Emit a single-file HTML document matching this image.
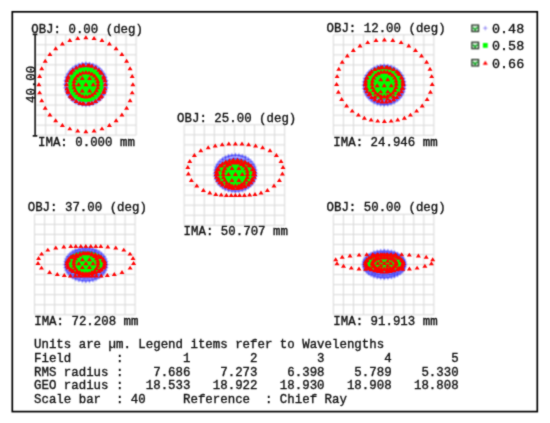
<!DOCTYPE html>
<html lang="en"><head><meta charset="utf-8"><title>Spot Diagram</title>
<style>html,body{margin:0;padding:0;background:#fff;overflow:hidden}body{width:550px;height:423px}</style>
</head><body>
<svg width="550" height="423" viewBox="0 0 550 423" style="font-family:'Liberation Mono',monospace;display:block" fill="#111">
<style>text{stroke:#111;stroke-width:.36px;white-space:pre}</style>
<defs><filter id="soft" x="0" y="0" width="100%" height="100%" filterUnits="userSpaceOnUse" color-interpolation-filters="sRGB"><feConvolveMatrix order="3" kernelMatrix="1 2 1 2 4 2 1 2 1" divisor="16" edgeMode="duplicate" preserveAlpha="false"/></filter><filter id="soft2" x="0" y="0" width="100%" height="100%" filterUnits="userSpaceOnUse" color-interpolation-filters="sRGB"><feConvolveMatrix order="3" kernelMatrix="1 3 1 3 16 3 1 3 1" divisor="32" edgeMode="duplicate" preserveAlpha="false"/></filter></defs>
<g filter="url(#soft)">
<rect width="550" height="423" fill="#fff"/>
<path d="M35.60 34.70v100.5M35.60 34.70h100.5M45.65 34.70v100.5M35.60 44.75h100.5M55.70 34.70v100.5M35.60 54.80h100.5M65.75 34.70v100.5M35.60 64.85h100.5M75.80 34.70v100.5M35.60 74.90h100.5M85.85 34.70v100.5M35.60 84.95h100.5M95.90 34.70v100.5M35.60 95.00h100.5M105.95 34.70v100.5M35.60 105.05h100.5M116.00 34.70v100.5M35.60 115.10h100.5M126.05 34.70v100.5M35.60 125.15h100.5M136.10 34.70v100.5M35.60 135.20h100.5" stroke="#d8d8d8" stroke-width="1" fill="none"/>
<path d="M333.40 34.80v100.5M333.40 34.80h100.5M343.45 34.80v100.5M333.40 44.85h100.5M353.50 34.80v100.5M333.40 54.90h100.5M363.55 34.80v100.5M333.40 64.95h100.5M373.60 34.80v100.5M333.40 75.00h100.5M383.65 34.80v100.5M333.40 85.05h100.5M393.70 34.80v100.5M333.40 95.10h100.5M403.75 34.80v100.5M333.40 105.15h100.5M413.80 34.80v100.5M333.40 115.20h100.5M423.85 34.80v100.5M333.40 125.25h100.5M433.90 34.80v100.5M333.40 135.30h100.5" stroke="#d8d8d8" stroke-width="1" fill="none"/>
<path d="M184.20 124.80v100.5M184.20 124.80h100.5M194.25 124.80v100.5M184.20 134.85h100.5M204.30 124.80v100.5M184.20 144.90h100.5M214.35 124.80v100.5M184.20 154.95h100.5M224.40 124.80v100.5M184.20 165.00h100.5M234.45 124.80v100.5M184.20 175.05h100.5M244.50 124.80v100.5M184.20 185.10h100.5M254.55 124.80v100.5M184.20 195.15h100.5M264.60 124.80v100.5M184.20 205.20h100.5M274.65 124.80v100.5M184.20 215.25h100.5M284.70 124.80v100.5M184.20 225.30h100.5" stroke="#d8d8d8" stroke-width="1" fill="none"/>
<path d="M34.60 214.30v100.5M34.60 214.30h100.5M44.65 214.30v100.5M34.60 224.35h100.5M54.70 214.30v100.5M34.60 234.40h100.5M64.75 214.30v100.5M34.60 244.45h100.5M74.80 214.30v100.5M34.60 254.50h100.5M84.85 214.30v100.5M34.60 264.55h100.5M94.90 214.30v100.5M34.60 274.60h100.5M104.95 214.30v100.5M34.60 284.65h100.5M115.00 214.30v100.5M34.60 294.70h100.5M125.05 214.30v100.5M34.60 304.75h100.5M135.10 214.30v100.5M34.60 314.80h100.5" stroke="#d8d8d8" stroke-width="1" fill="none"/>
<path d="M333.40 214.30v100.5M333.40 214.30h100.5M343.45 214.30v100.5M333.40 224.35h100.5M353.50 214.30v100.5M333.40 234.40h100.5M363.55 214.30v100.5M333.40 244.45h100.5M373.60 214.30v100.5M333.40 254.50h100.5M383.65 214.30v100.5M333.40 264.55h100.5M393.70 214.30v100.5M333.40 274.60h100.5M403.75 214.30v100.5M333.40 284.65h100.5M413.80 214.30v100.5M333.40 294.70h100.5M423.85 214.30v100.5M333.40 304.75h100.5M433.90 214.30v100.5M333.40 314.80h100.5" stroke="#d8d8d8" stroke-width="1" fill="none"/>
<path d="M83.70 84.30h4.40M85.90 82.10v4.40M87.20 84.30h4.40M89.40 82.10v4.40M85.45 81.27h4.40M87.65 79.07v4.40M81.95 81.27h4.40M84.15 79.07v4.40M80.20 84.30h4.40M82.40 82.10v4.40M81.95 87.33h4.40M84.15 85.13v4.40M85.45 87.33h4.40M87.65 85.13v4.40M90.70 84.30h4.40M92.90 82.10v4.40M89.76 80.80h4.40M91.96 78.60v4.40M87.20 78.24h4.40M89.40 76.04v4.40M83.70 77.30h4.40M85.90 75.10v4.40M80.20 78.24h4.40M82.40 76.04v4.40M77.64 80.80h4.40M79.84 78.60v4.40M76.70 84.30h4.40M78.90 82.10v4.40M77.64 87.80h4.40M79.84 85.60v4.40M80.20 90.36h4.40M82.40 88.16v4.40M83.70 91.30h4.40M85.90 89.10v4.40M87.20 90.36h4.40M89.40 88.16v4.40M89.76 87.80h4.40M91.96 85.60v4.40M94.20 84.30h4.40M96.40 82.10v4.40M93.57 80.71h4.40M95.77 78.51v4.40M91.74 77.55h4.40M93.94 75.35v4.40M88.95 75.21h4.40M91.15 73.01v4.40M85.52 73.96h4.40M87.72 71.76v4.40M81.88 73.96h4.40M84.08 71.76v4.40M78.45 75.21h4.40M80.65 73.01v4.40M75.66 77.55h4.40M77.86 75.35v4.40M73.83 80.71h4.40M76.03 78.51v4.40M73.20 84.30h4.40M75.40 82.10v4.40M73.83 87.89h4.40M76.03 85.69v4.40M75.66 91.05h4.40M77.86 88.85v4.40M78.45 93.39h4.40M80.65 91.19v4.40M81.88 94.64h4.40M84.08 92.44v4.40M85.52 94.64h4.40M87.72 92.44v4.40M88.95 93.39h4.40M91.15 91.19v4.40M91.74 91.05h4.40M93.94 88.85v4.40M93.57 87.89h4.40M95.77 85.69v4.40M97.70 84.30h4.40M99.90 82.10v4.40M97.22 80.68h4.40M99.42 78.48v4.40M95.82 77.30h4.40M98.02 75.10v4.40M93.60 74.40h4.40M95.80 72.20v4.40M90.70 72.18h4.40M92.90 69.98v4.40M87.32 70.78h4.40M89.52 68.58v4.40M83.70 70.30h4.40M85.90 68.10v4.40M80.08 70.78h4.40M82.28 68.58v4.40M76.70 72.18h4.40M78.90 69.98v4.40M73.80 74.40h4.40M76.00 72.20v4.40M71.58 77.30h4.40M73.78 75.10v4.40M70.18 80.68h4.40M72.38 78.48v4.40M69.70 84.30h4.40M71.90 82.10v4.40M70.18 87.92h4.40M72.38 85.72v4.40M71.58 91.30h4.40M73.78 89.10v4.40M73.80 94.20h4.40M76.00 92.00v4.40M76.70 96.42h4.40M78.90 94.22v4.40M80.08 97.82h4.40M82.28 95.62v4.40M83.70 98.30h4.40M85.90 96.10v4.40M87.32 97.82h4.40M89.52 95.62v4.40M90.70 96.42h4.40M92.90 94.22v4.40M93.60 94.20h4.40M95.80 92.00v4.40M95.82 91.30h4.40M98.02 89.10v4.40M97.22 87.92h4.40M99.42 85.72v4.40M101.20 84.30h4.40M103.40 82.10v4.40M100.82 80.66h4.40M103.02 78.46v4.40M99.69 77.18h4.40M101.89 74.98v4.40M97.86 74.01h4.40M100.06 71.81v4.40M95.41 71.29h4.40M97.61 69.09v4.40M92.45 69.14h4.40M94.65 66.94v4.40M89.11 67.66h4.40M91.31 65.46v4.40M85.53 66.90h4.40M87.73 64.70v4.40M81.87 66.90h4.40M84.07 64.70v4.40M78.29 67.66h4.40M80.49 65.46v4.40M74.95 69.14h4.40M77.15 66.94v4.40M71.99 71.29h4.40M74.19 69.09v4.40M69.54 74.01h4.40M71.74 71.81v4.40M67.71 77.18h4.40M69.91 74.98v4.40M66.58 80.66h4.40M68.78 78.46v4.40M66.20 84.30h4.40M68.40 82.10v4.40M66.58 87.94h4.40M68.78 85.74v4.40M67.71 91.42h4.40M69.91 89.22v4.40M69.54 94.59h4.40M71.74 92.39v4.40M71.99 97.31h4.40M74.19 95.11v4.40M74.95 99.46h4.40M77.15 97.26v4.40M78.29 100.94h4.40M80.49 98.74v4.40M81.87 101.70h4.40M84.07 99.50v4.40M85.53 101.70h4.40M87.73 99.50v4.40M89.11 100.94h4.40M91.31 98.74v4.40M92.45 99.46h4.40M94.65 97.26v4.40M95.41 97.31h4.40M97.61 95.11v4.40M97.86 94.59h4.40M100.06 92.39v4.40M99.69 91.42h4.40M101.89 89.22v4.40M100.82 87.94h4.40M103.02 85.74v4.40M104.10 84.30h4.40M106.30 82.10v4.40M103.79 80.76h4.40M105.99 78.56v4.40M102.87 77.32h4.40M105.07 75.12v4.40M101.37 74.10h4.40M103.57 71.90v4.40M99.33 71.19h4.40M101.53 68.99v4.40M96.81 68.67h4.40M99.01 66.47v4.40M93.90 66.63h4.40M96.10 64.43v4.40M90.68 65.13h4.40M92.88 62.93v4.40M87.24 64.21h4.40M89.44 62.01v4.40M83.70 63.90h4.40M85.90 61.70v4.40M80.16 64.21h4.40M82.36 62.01v4.40M76.72 65.13h4.40M78.92 62.93v4.40M73.50 66.63h4.40M75.70 64.43v4.40M70.59 68.67h4.40M72.79 66.47v4.40M68.07 71.19h4.40M70.27 68.99v4.40M66.03 74.10h4.40M68.23 71.90v4.40M64.53 77.32h4.40M66.73 75.12v4.40M63.61 80.76h4.40M65.81 78.56v4.40M63.30 84.30h4.40M65.50 82.10v4.40M63.61 87.84h4.40M65.81 85.64v4.40M64.53 91.28h4.40M66.73 89.08v4.40M66.03 94.50h4.40M68.23 92.30v4.40M68.07 97.41h4.40M70.27 95.21v4.40M70.59 99.93h4.40M72.79 97.73v4.40M73.50 101.97h4.40M75.70 99.77v4.40M76.72 103.47h4.40M78.92 101.27v4.40M80.16 104.39h4.40M82.36 102.19v4.40M83.70 104.70h4.40M85.90 102.50v4.40M87.24 104.39h4.40M89.44 102.19v4.40M90.68 103.47h4.40M92.88 101.27v4.40M93.90 101.97h4.40M96.10 99.77v4.40M96.81 99.93h4.40M99.01 97.73v4.40M99.33 97.41h4.40M101.53 95.21v4.40M101.37 94.50h4.40M103.57 92.30v4.40M102.87 91.28h4.40M105.07 89.08v4.40M103.79 87.84h4.40M105.99 85.64v4.40" stroke="#0000ff" stroke-width="0.75" fill="none"/>
<path d="M83.50 81.90h4.80v4.80h-4.80ZM86.10 81.90h4.80v4.80h-4.80ZM84.80 79.65h4.80v4.80h-4.80ZM82.20 79.65h4.80v4.80h-4.80ZM80.90 81.90h4.80v4.80h-4.80ZM82.20 84.15h4.80v4.80h-4.80ZM84.80 84.15h4.80v4.80h-4.80ZM88.70 81.90h4.80v4.80h-4.80ZM88.00 79.30h4.80v4.80h-4.80ZM86.10 77.40h4.80v4.80h-4.80ZM83.50 76.70h4.80v4.80h-4.80ZM80.90 77.40h4.80v4.80h-4.80ZM79.00 79.30h4.80v4.80h-4.80ZM78.30 81.90h4.80v4.80h-4.80ZM79.00 84.50h4.80v4.80h-4.80ZM80.90 86.40h4.80v4.80h-4.80ZM83.50 87.10h4.80v4.80h-4.80ZM86.10 86.40h4.80v4.80h-4.80ZM88.00 84.50h4.80v4.80h-4.80ZM91.30 81.90h4.80v4.80h-4.80ZM90.83 79.23h4.80v4.80h-4.80ZM89.48 76.89h4.80v4.80h-4.80ZM87.40 75.15h4.80v4.80h-4.80ZM84.85 74.22h4.80v4.80h-4.80ZM82.15 74.22h4.80v4.80h-4.80ZM79.60 75.15h4.80v4.80h-4.80ZM77.52 76.89h4.80v4.80h-4.80ZM76.17 79.23h4.80v4.80h-4.80ZM75.70 81.90h4.80v4.80h-4.80ZM76.17 84.57h4.80v4.80h-4.80ZM77.52 86.91h4.80v4.80h-4.80ZM79.60 88.65h4.80v4.80h-4.80ZM82.15 89.58h4.80v4.80h-4.80ZM84.85 89.58h4.80v4.80h-4.80ZM87.40 88.65h4.80v4.80h-4.80ZM89.48 86.91h4.80v4.80h-4.80ZM90.83 84.57h4.80v4.80h-4.80ZM93.90 81.90h4.80v4.80h-4.80ZM93.55 79.21h4.80v4.80h-4.80ZM92.51 76.70h4.80v4.80h-4.80ZM90.85 74.55h4.80v4.80h-4.80ZM88.70 72.89h4.80v4.80h-4.80ZM86.19 71.85h4.80v4.80h-4.80ZM83.50 71.50h4.80v4.80h-4.80ZM80.81 71.85h4.80v4.80h-4.80ZM78.30 72.89h4.80v4.80h-4.80ZM76.15 74.55h4.80v4.80h-4.80ZM74.49 76.70h4.80v4.80h-4.80ZM73.45 79.21h4.80v4.80h-4.80ZM73.10 81.90h4.80v4.80h-4.80ZM73.45 84.59h4.80v4.80h-4.80ZM74.49 87.10h4.80v4.80h-4.80ZM76.15 89.25h4.80v4.80h-4.80ZM78.30 90.91h4.80v4.80h-4.80ZM80.81 91.95h4.80v4.80h-4.80ZM83.50 92.30h4.80v4.80h-4.80ZM86.19 91.95h4.80v4.80h-4.80ZM88.70 90.91h4.80v4.80h-4.80ZM90.85 89.25h4.80v4.80h-4.80ZM92.51 87.10h4.80v4.80h-4.80ZM93.55 84.59h4.80v4.80h-4.80ZM96.50 81.90h4.80v4.80h-4.80ZM96.22 79.20h4.80v4.80h-4.80ZM95.38 76.61h4.80v4.80h-4.80ZM94.02 74.26h4.80v4.80h-4.80ZM92.20 72.24h4.80v4.80h-4.80ZM90.00 70.64h4.80v4.80h-4.80ZM87.52 69.54h4.80v4.80h-4.80ZM84.86 68.97h4.80v4.80h-4.80ZM82.14 68.97h4.80v4.80h-4.80ZM79.48 69.54h4.80v4.80h-4.80ZM77.00 70.64h4.80v4.80h-4.80ZM74.80 72.24h4.80v4.80h-4.80ZM72.98 74.26h4.80v4.80h-4.80ZM71.62 76.61h4.80v4.80h-4.80ZM70.78 79.20h4.80v4.80h-4.80ZM70.50 81.90h4.80v4.80h-4.80ZM70.78 84.60h4.80v4.80h-4.80ZM71.62 87.19h4.80v4.80h-4.80ZM72.98 89.54h4.80v4.80h-4.80ZM74.80 91.56h4.80v4.80h-4.80ZM77.00 93.16h4.80v4.80h-4.80ZM79.48 94.26h4.80v4.80h-4.80ZM82.14 94.83h4.80v4.80h-4.80ZM84.86 94.83h4.80v4.80h-4.80ZM87.52 94.26h4.80v4.80h-4.80ZM90.00 93.16h4.80v4.80h-4.80ZM92.20 91.56h4.80v4.80h-4.80ZM94.02 89.54h4.80v4.80h-4.80ZM95.38 87.19h4.80v4.80h-4.80ZM96.22 84.60h4.80v4.80h-4.80ZM99.00 81.90h4.80v4.80h-4.80ZM98.76 79.21h4.80v4.80h-4.80ZM98.07 76.60h4.80v4.80h-4.80ZM96.92 74.15h4.80v4.80h-4.80ZM95.37 71.94h4.80v4.80h-4.80ZM93.46 70.03h4.80v4.80h-4.80ZM91.25 68.48h4.80v4.80h-4.80ZM88.80 67.33h4.80v4.80h-4.80ZM86.19 66.64h4.80v4.80h-4.80ZM83.50 66.40h4.80v4.80h-4.80ZM80.81 66.64h4.80v4.80h-4.80ZM78.20 67.33h4.80v4.80h-4.80ZM75.75 68.48h4.80v4.80h-4.80ZM73.54 70.03h4.80v4.80h-4.80ZM71.63 71.94h4.80v4.80h-4.80ZM70.08 74.15h4.80v4.80h-4.80ZM68.93 76.60h4.80v4.80h-4.80ZM68.24 79.21h4.80v4.80h-4.80ZM68.00 81.90h4.80v4.80h-4.80ZM68.24 84.59h4.80v4.80h-4.80ZM68.93 87.20h4.80v4.80h-4.80ZM70.08 89.65h4.80v4.80h-4.80ZM71.63 91.86h4.80v4.80h-4.80ZM73.54 93.77h4.80v4.80h-4.80ZM75.75 95.32h4.80v4.80h-4.80ZM78.20 96.47h4.80v4.80h-4.80ZM80.81 97.16h4.80v4.80h-4.80ZM83.50 97.40h4.80v4.80h-4.80ZM86.19 97.16h4.80v4.80h-4.80ZM88.80 96.47h4.80v4.80h-4.80ZM91.25 95.32h4.80v4.80h-4.80ZM93.46 93.77h4.80v4.80h-4.80ZM95.37 91.86h4.80v4.80h-4.80ZM96.92 89.65h4.80v4.80h-4.80ZM98.07 87.20h4.80v4.80h-4.80ZM98.76 84.59h4.80v4.80h-4.80Z" fill="#00ff00"/>
<path d="M382.00 85.40h4.40M384.20 83.20v4.40M385.50 85.40h4.40M387.70 83.20v4.40M383.75 82.37h4.40M385.95 80.17v4.40M380.25 82.37h4.40M382.45 80.17v4.40M378.50 85.40h4.40M380.70 83.20v4.40M380.25 88.43h4.40M382.45 86.23v4.40M383.75 88.43h4.40M385.95 86.23v4.40M389.00 85.40h4.40M391.20 83.20v4.40M388.06 81.90h4.40M390.26 79.70v4.40M385.50 79.34h4.40M387.70 77.14v4.40M382.00 78.40h4.40M384.20 76.20v4.40M378.50 79.34h4.40M380.70 77.14v4.40M375.94 81.90h4.40M378.14 79.70v4.40M375.00 85.40h4.40M377.20 83.20v4.40M375.94 88.90h4.40M378.14 86.70v4.40M378.50 91.46h4.40M380.70 89.26v4.40M382.00 92.40h4.40M384.20 90.20v4.40M385.50 91.46h4.40M387.70 89.26v4.40M388.06 88.90h4.40M390.26 86.70v4.40M392.50 85.40h4.40M394.70 83.20v4.40M391.87 81.81h4.40M394.07 79.61v4.40M390.04 78.65h4.40M392.24 76.45v4.40M387.25 76.31h4.40M389.45 74.11v4.40M383.82 75.06h4.40M386.02 72.86v4.40M380.18 75.06h4.40M382.38 72.86v4.40M376.75 76.31h4.40M378.95 74.11v4.40M373.96 78.65h4.40M376.16 76.45v4.40M372.13 81.81h4.40M374.33 79.61v4.40M371.50 85.40h4.40M373.70 83.20v4.40M372.13 88.99h4.40M374.33 86.79v4.40M373.96 92.15h4.40M376.16 89.95v4.40M376.75 94.49h4.40M378.95 92.29v4.40M380.18 95.74h4.40M382.38 93.54v4.40M383.82 95.74h4.40M386.02 93.54v4.40M387.25 94.49h4.40M389.45 92.29v4.40M390.04 92.15h4.40M392.24 89.95v4.40M391.87 88.99h4.40M394.07 86.79v4.40M396.00 85.40h4.40M398.20 83.20v4.40M395.52 81.78h4.40M397.72 79.58v4.40M394.12 78.40h4.40M396.32 76.20v4.40M391.90 75.50h4.40M394.10 73.30v4.40M389.00 73.28h4.40M391.20 71.08v4.40M385.62 71.88h4.40M387.82 69.68v4.40M382.00 71.40h4.40M384.20 69.20v4.40M378.38 71.88h4.40M380.58 69.68v4.40M375.00 73.28h4.40M377.20 71.08v4.40M372.10 75.50h4.40M374.30 73.30v4.40M369.88 78.40h4.40M372.08 76.20v4.40M368.48 81.78h4.40M370.68 79.58v4.40M368.00 85.40h4.40M370.20 83.20v4.40M368.48 89.02h4.40M370.68 86.82v4.40M369.88 92.40h4.40M372.08 90.20v4.40M372.10 95.30h4.40M374.30 93.10v4.40M375.00 97.52h4.40M377.20 95.32v4.40M378.38 98.92h4.40M380.58 96.72v4.40M382.00 99.40h4.40M384.20 97.20v4.40M385.62 98.92h4.40M387.82 96.72v4.40M389.00 97.52h4.40M391.20 95.32v4.40M391.90 95.30h4.40M394.10 93.10v4.40M394.12 92.40h4.40M396.32 90.20v4.40M395.52 89.02h4.40M397.72 86.82v4.40M399.50 85.20h4.40M401.70 83.00v4.40M399.12 81.67h4.40M401.32 79.47v4.40M397.99 78.29h4.40M400.19 76.09v4.40M396.16 75.21h4.40M398.36 73.01v4.40M393.71 72.57h4.40M395.91 70.37v4.40M390.75 70.48h4.40M392.95 68.28v4.40M387.41 69.03h4.40M389.61 66.83v4.40M383.83 68.29h4.40M386.03 66.09v4.40M380.17 68.29h4.40M382.37 66.09v4.40M376.59 69.03h4.40M378.79 66.83v4.40M373.25 70.48h4.40M375.45 68.28v4.40M370.29 72.57h4.40M372.49 70.37v4.40M367.84 75.21h4.40M370.04 73.01v4.40M366.01 78.29h4.40M368.21 76.09v4.40M364.88 81.67h4.40M367.08 79.47v4.40M364.50 85.20h4.40M366.70 83.00v4.40M364.88 88.73h4.40M367.08 86.53v4.40M366.01 92.11h4.40M368.21 89.91v4.40M367.84 95.19h4.40M370.04 92.99v4.40M370.29 97.83h4.40M372.49 95.63v4.40M373.25 99.92h4.40M375.45 97.72v4.40M376.59 101.37h4.40M378.79 99.17v4.40M380.17 102.11h4.40M382.37 99.91v4.40M383.83 102.11h4.40M386.03 99.91v4.40M387.41 101.37h4.40M389.61 99.17v4.40M390.75 99.92h4.40M392.95 97.72v4.40M393.71 97.83h4.40M395.91 95.63v4.40M396.16 95.19h4.40M398.36 92.99v4.40M397.99 92.11h4.40M400.19 89.91v4.40M399.12 88.73h4.40M401.32 86.53v4.40M402.10 85.20h4.40M404.30 83.00v4.40M401.79 81.85h4.40M403.99 79.65v4.40M400.89 78.60h4.40M403.09 76.40v4.40M399.41 75.55h4.40M401.61 73.35v4.40M397.40 72.79h4.40M399.60 70.59v4.40M394.92 70.42h4.40M397.12 68.22v4.40M392.05 68.49h4.40M394.25 66.29v4.40M388.87 67.06h4.40M391.07 64.86v4.40M385.49 66.19h4.40M387.69 63.99v4.40M382.00 65.90h4.40M384.20 63.70v4.40M378.51 66.19h4.40M380.71 63.99v4.40M375.13 67.06h4.40M377.33 64.86v4.40M371.95 68.49h4.40M374.15 66.29v4.40M369.08 70.42h4.40M371.28 68.22v4.40M366.60 72.79h4.40M368.80 70.59v4.40M364.59 75.55h4.40M366.79 73.35v4.40M363.11 78.60h4.40M365.31 76.40v4.40M362.21 81.85h4.40M364.41 79.65v4.40M361.90 85.20h4.40M364.10 83.00v4.40M362.21 88.55h4.40M364.41 86.35v4.40M363.11 91.80h4.40M365.31 89.60v4.40M364.59 94.85h4.40M366.79 92.65v4.40M366.60 97.61h4.40M368.80 95.41v4.40M369.08 99.98h4.40M371.28 97.78v4.40M371.95 101.91h4.40M374.15 99.71v4.40M375.13 103.34h4.40M377.33 101.14v4.40M378.51 104.21h4.40M380.71 102.01v4.40M382.00 104.50h4.40M384.20 102.30v4.40M385.49 104.21h4.40M387.69 102.01v4.40M388.87 103.34h4.40M391.07 101.14v4.40M392.05 101.91h4.40M394.25 99.71v4.40M394.92 99.98h4.40M397.12 97.78v4.40M397.40 97.61h4.40M399.60 95.41v4.40M399.41 94.85h4.40M401.61 92.65v4.40M400.89 91.80h4.40M403.09 89.60v4.40M401.79 88.55h4.40M403.99 86.35v4.40" stroke="#0000ff" stroke-width="0.75" fill="none"/>
<path d="M381.80 83.00h4.80v4.80h-4.80ZM384.50 83.00h4.80v4.80h-4.80ZM383.15 80.75h4.80v4.80h-4.80ZM380.45 80.75h4.80v4.80h-4.80ZM379.10 83.00h4.80v4.80h-4.80ZM380.45 85.25h4.80v4.80h-4.80ZM383.15 85.25h4.80v4.80h-4.80ZM387.20 82.80h4.80v4.80h-4.80ZM386.48 80.30h4.80v4.80h-4.80ZM384.50 78.47h4.80v4.80h-4.80ZM381.80 77.80h4.80v4.80h-4.80ZM379.10 78.47h4.80v4.80h-4.80ZM377.12 80.30h4.80v4.80h-4.80ZM376.40 82.80h4.80v4.80h-4.80ZM377.12 85.30h4.80v4.80h-4.80ZM379.10 87.13h4.80v4.80h-4.80ZM381.80 87.80h4.80v4.80h-4.80ZM384.50 87.13h4.80v4.80h-4.80ZM386.48 85.30h4.80v4.80h-4.80ZM389.90 82.50h4.80v4.80h-4.80ZM389.41 80.00h4.80v4.80h-4.80ZM388.00 77.81h4.80v4.80h-4.80ZM385.85 76.18h4.80v4.80h-4.80ZM383.21 75.31h4.80v4.80h-4.80ZM380.39 75.31h4.80v4.80h-4.80ZM377.75 76.18h4.80v4.80h-4.80ZM375.60 77.81h4.80v4.80h-4.80ZM374.19 80.00h4.80v4.80h-4.80ZM373.70 82.50h4.80v4.80h-4.80ZM374.19 85.00h4.80v4.80h-4.80ZM375.60 87.19h4.80v4.80h-4.80ZM377.75 88.82h4.80v4.80h-4.80ZM380.39 89.69h4.80v4.80h-4.80ZM383.21 89.69h4.80v4.80h-4.80ZM385.85 88.82h4.80v4.80h-4.80ZM388.00 87.19h4.80v4.80h-4.80ZM389.41 85.00h4.80v4.80h-4.80ZM392.60 82.00h4.80v4.80h-4.80ZM392.23 79.54h4.80v4.80h-4.80ZM391.15 77.25h4.80v4.80h-4.80ZM389.44 75.28h4.80v4.80h-4.80ZM387.20 73.77h4.80v4.80h-4.80ZM384.60 72.82h4.80v4.80h-4.80ZM381.80 72.50h4.80v4.80h-4.80ZM379.00 72.82h4.80v4.80h-4.80ZM376.40 73.77h4.80v4.80h-4.80ZM374.16 75.28h4.80v4.80h-4.80ZM372.45 77.25h4.80v4.80h-4.80ZM371.37 79.54h4.80v4.80h-4.80ZM371.00 82.00h4.80v4.80h-4.80ZM371.37 84.46h4.80v4.80h-4.80ZM372.45 86.75h4.80v4.80h-4.80ZM374.16 88.72h4.80v4.80h-4.80ZM376.40 90.23h4.80v4.80h-4.80ZM379.00 91.18h4.80v4.80h-4.80ZM381.80 91.50h4.80v4.80h-4.80ZM384.60 91.18h4.80v4.80h-4.80ZM387.20 90.23h4.80v4.80h-4.80ZM389.44 88.72h4.80v4.80h-4.80ZM391.15 86.75h4.80v4.80h-4.80ZM392.23 84.46h4.80v4.80h-4.80ZM395.30 81.40h4.80v4.80h-4.80ZM395.00 78.99h4.80v4.80h-4.80ZM394.13 76.68h4.80v4.80h-4.80ZM392.72 74.58h4.80v4.80h-4.80ZM390.83 72.78h4.80v4.80h-4.80ZM388.55 71.35h4.80v4.80h-4.80ZM385.97 70.37h4.80v4.80h-4.80ZM383.21 69.86h4.80v4.80h-4.80ZM380.39 69.86h4.80v4.80h-4.80ZM377.63 70.37h4.80v4.80h-4.80ZM375.05 71.35h4.80v4.80h-4.80ZM372.77 72.78h4.80v4.80h-4.80ZM370.88 74.58h4.80v4.80h-4.80ZM369.47 76.68h4.80v4.80h-4.80ZM368.60 78.99h4.80v4.80h-4.80ZM368.30 81.40h4.80v4.80h-4.80ZM368.60 83.81h4.80v4.80h-4.80ZM369.47 86.12h4.80v4.80h-4.80ZM370.88 88.22h4.80v4.80h-4.80ZM372.77 90.02h4.80v4.80h-4.80ZM375.05 91.45h4.80v4.80h-4.80ZM377.63 92.43h4.80v4.80h-4.80ZM380.39 92.94h4.80v4.80h-4.80ZM383.21 92.94h4.80v4.80h-4.80ZM385.97 92.43h4.80v4.80h-4.80ZM388.55 91.45h4.80v4.80h-4.80ZM390.83 90.02h4.80v4.80h-4.80ZM392.72 88.22h4.80v4.80h-4.80ZM394.13 86.12h4.80v4.80h-4.80ZM395.00 83.81h4.80v4.80h-4.80ZM397.80 80.80h4.80v4.80h-4.80ZM397.56 78.44h4.80v4.80h-4.80ZM396.84 76.15h4.80v4.80h-4.80ZM395.66 74.00h4.80v4.80h-4.80ZM394.06 72.06h4.80v4.80h-4.80ZM392.08 70.38h4.80v4.80h-4.80ZM389.80 69.02h4.80v4.80h-4.80ZM387.27 68.02h4.80v4.80h-4.80ZM384.58 67.41h4.80v4.80h-4.80ZM381.80 67.20h4.80v4.80h-4.80ZM379.02 67.41h4.80v4.80h-4.80ZM376.33 68.02h4.80v4.80h-4.80ZM373.80 69.02h4.80v4.80h-4.80ZM371.52 70.38h4.80v4.80h-4.80ZM369.54 72.06h4.80v4.80h-4.80ZM367.94 74.00h4.80v4.80h-4.80ZM366.76 76.15h4.80v4.80h-4.80ZM366.04 78.44h4.80v4.80h-4.80ZM365.80 80.80h4.80v4.80h-4.80ZM366.04 83.16h4.80v4.80h-4.80ZM366.76 85.45h4.80v4.80h-4.80ZM367.94 87.60h4.80v4.80h-4.80ZM369.54 89.54h4.80v4.80h-4.80ZM371.52 91.22h4.80v4.80h-4.80ZM373.80 92.58h4.80v4.80h-4.80ZM376.33 93.58h4.80v4.80h-4.80ZM379.02 94.19h4.80v4.80h-4.80ZM381.80 94.40h4.80v4.80h-4.80ZM384.58 94.19h4.80v4.80h-4.80ZM387.27 93.58h4.80v4.80h-4.80ZM389.80 92.58h4.80v4.80h-4.80ZM392.08 91.22h4.80v4.80h-4.80ZM394.06 89.54h4.80v4.80h-4.80ZM395.66 87.60h4.80v4.80h-4.80ZM396.84 85.45h4.80v4.80h-4.80ZM397.56 83.16h4.80v4.80h-4.80Z" fill="#00ff00"/>
<path d="M233.20 174.00h4.40M235.40 171.80v4.40M236.70 174.00h4.40M238.90 171.80v4.40M234.95 171.23h4.40M237.15 169.03v4.40M231.45 171.23h4.40M233.65 169.03v4.40M229.70 174.00h4.40M231.90 171.80v4.40M231.45 176.77h4.40M233.65 174.57v4.40M234.95 176.77h4.40M237.15 174.57v4.40M240.20 174.00h4.40M242.40 171.80v4.40M239.26 170.80h4.40M241.46 168.60v4.40M236.70 168.46h4.40M238.90 166.26v4.40M233.20 167.60h4.40M235.40 165.40v4.40M229.70 168.46h4.40M231.90 166.26v4.40M227.14 170.80h4.40M229.34 168.60v4.40M226.20 174.00h4.40M228.40 171.80v4.40M227.14 177.20h4.40M229.34 175.00v4.40M229.70 179.54h4.40M231.90 177.34v4.40M233.20 180.40h4.40M235.40 178.20v4.40M236.70 179.54h4.40M238.90 177.34v4.40M239.26 177.20h4.40M241.46 175.00v4.40M243.70 174.00h4.40M245.90 171.80v4.40M243.07 170.72h4.40M245.27 168.52v4.40M241.24 167.83h4.40M243.44 165.63v4.40M238.45 165.69h4.40M240.65 163.49v4.40M235.02 164.55h4.40M237.22 162.35v4.40M231.38 164.55h4.40M233.58 162.35v4.40M227.95 165.69h4.40M230.15 163.49v4.40M225.16 167.83h4.40M227.36 165.63v4.40M223.33 170.72h4.40M225.53 168.52v4.40M222.70 174.00h4.40M224.90 171.80v4.40M223.33 177.28h4.40M225.53 175.08v4.40M225.16 180.17h4.40M227.36 177.97v4.40M227.95 182.31h4.40M230.15 180.11v4.40M231.38 183.45h4.40M233.58 181.25v4.40M235.02 183.45h4.40M237.22 181.25v4.40M238.45 182.31h4.40M240.65 180.11v4.40M241.24 180.17h4.40M243.44 177.97v4.40M243.07 177.28h4.40M245.27 175.08v4.40M247.20 174.00h4.40M249.40 171.80v4.40M246.72 170.69h4.40M248.92 168.49v4.40M245.32 167.60h4.40M247.52 165.40v4.40M243.10 164.95h4.40M245.30 162.75v4.40M240.20 162.91h4.40M242.40 160.71v4.40M236.82 161.64h4.40M239.02 159.44v4.40M233.20 161.20h4.40M235.40 159.00v4.40M229.58 161.64h4.40M231.78 159.44v4.40M226.20 162.91h4.40M228.40 160.71v4.40M223.30 164.95h4.40M225.50 162.75v4.40M221.08 167.60h4.40M223.28 165.40v4.40M219.68 170.69h4.40M221.88 168.49v4.40M219.20 174.00h4.40M221.40 171.80v4.40M219.68 177.31h4.40M221.88 175.11v4.40M221.08 180.40h4.40M223.28 178.20v4.40M223.30 183.05h4.40M225.50 180.85v4.40M226.20 185.09h4.40M228.40 182.89v4.40M229.58 186.36h4.40M231.78 184.16v4.40M233.20 186.80h4.40M235.40 184.60v4.40M236.82 186.36h4.40M239.02 184.16v4.40M240.20 185.09h4.40M242.40 182.89v4.40M243.10 183.05h4.40M245.30 180.85v4.40M245.32 180.40h4.40M247.52 178.20v4.40M246.72 177.31h4.40M248.92 175.11v4.40M250.20 173.50h4.40M252.40 171.30v4.40M249.83 170.42h4.40M252.03 168.22v4.40M248.73 167.48h4.40M250.93 165.28v4.40M246.95 164.80h4.40M249.15 162.60v4.40M244.58 162.50h4.40M246.78 160.30v4.40M241.70 160.68h4.40M243.90 158.48v4.40M238.45 159.42h4.40M240.65 157.22v4.40M234.98 158.78h4.40M237.18 156.58v4.40M231.42 158.78h4.40M233.62 156.58v4.40M227.95 159.42h4.40M230.15 157.22v4.40M224.70 160.68h4.40M226.90 158.48v4.40M221.82 162.50h4.40M224.02 160.30v4.40M219.45 164.80h4.40M221.65 162.60v4.40M217.67 167.48h4.40M219.87 165.28v4.40M216.57 170.42h4.40M218.77 168.22v4.40M216.20 173.50h4.40M218.40 171.30v4.40M216.57 176.58h4.40M218.77 174.38v4.40M217.67 179.52h4.40M219.87 177.32v4.40M219.45 182.20h4.40M221.65 180.00v4.40M221.82 184.50h4.40M224.02 182.30v4.40M224.70 186.32h4.40M226.90 184.12v4.40M227.95 187.58h4.40M230.15 185.38v4.40M231.42 188.22h4.40M233.62 186.02v4.40M234.98 188.22h4.40M237.18 186.02v4.40M238.45 187.58h4.40M240.65 185.38v4.40M241.70 186.32h4.40M243.90 184.12v4.40M244.58 184.50h4.40M246.78 182.30v4.40M246.95 182.20h4.40M249.15 180.00v4.40M248.73 179.52h4.40M250.93 177.32v4.40M249.83 176.58h4.40M252.03 174.38v4.40M253.30 173.20h4.40M255.50 171.00v4.40M252.99 170.09h4.40M255.19 167.89v4.40M252.09 167.08h4.40M254.29 164.88v4.40M250.61 164.25h4.40M252.81 162.05v4.40M248.60 161.69h4.40M250.80 159.49v4.40M246.12 159.49h4.40M248.32 157.29v4.40M243.25 157.70h4.40M245.45 155.50v4.40M240.07 156.38h4.40M242.27 154.18v4.40M236.69 155.57h4.40M238.89 153.37v4.40M233.20 155.30h4.40M235.40 153.10v4.40M229.71 155.57h4.40M231.91 153.37v4.40M226.33 156.38h4.40M228.53 154.18v4.40M223.15 157.70h4.40M225.35 155.50v4.40M220.28 159.49h4.40M222.48 157.29v4.40M217.80 161.69h4.40M220.00 159.49v4.40M215.79 164.25h4.40M217.99 162.05v4.40M214.31 167.08h4.40M216.51 164.88v4.40M213.41 170.09h4.40M215.61 167.89v4.40M213.10 173.20h4.40M215.30 171.00v4.40M213.41 176.31h4.40M215.61 174.11v4.40M214.31 179.32h4.40M216.51 177.12v4.40M215.79 182.15h4.40M217.99 179.95v4.40M217.80 184.71h4.40M220.00 182.51v4.40M220.28 186.91h4.40M222.48 184.71v4.40M223.15 188.70h4.40M225.35 186.50v4.40M226.33 190.02h4.40M228.53 187.82v4.40M229.71 190.83h4.40M231.91 188.63v4.40M233.20 191.10h4.40M235.40 188.90v4.40M236.69 190.83h4.40M238.89 188.63v4.40M240.07 190.02h4.40M242.27 187.82v4.40M243.25 188.70h4.40M245.45 186.50v4.40M246.12 186.91h4.40M248.32 184.71v4.40M248.60 184.71h4.40M250.80 182.51v4.40M250.61 182.15h4.40M252.81 179.95v4.40M252.09 179.32h4.40M254.29 177.12v4.40M252.99 176.31h4.40M255.19 174.11v4.40" stroke="#0000ff" stroke-width="0.75" fill="none"/>
<path d="M233.00 171.60h4.80v4.80h-4.80ZM235.60 171.60h4.80v4.80h-4.80ZM234.30 169.69h4.80v4.80h-4.80ZM231.70 169.69h4.80v4.80h-4.80ZM230.40 171.60h4.80v4.80h-4.80ZM231.70 173.51h4.80v4.80h-4.80ZM234.30 173.51h4.80v4.80h-4.80ZM238.20 171.60h4.80v4.80h-4.80ZM237.50 169.40h4.80v4.80h-4.80ZM235.60 167.79h4.80v4.80h-4.80ZM233.00 167.20h4.80v4.80h-4.80ZM230.40 167.79h4.80v4.80h-4.80ZM228.50 169.40h4.80v4.80h-4.80ZM227.80 171.60h4.80v4.80h-4.80ZM228.50 173.80h4.80v4.80h-4.80ZM230.40 175.41h4.80v4.80h-4.80ZM233.00 176.00h4.80v4.80h-4.80ZM235.60 175.41h4.80v4.80h-4.80ZM237.50 173.80h4.80v4.80h-4.80ZM240.80 171.60h4.80v4.80h-4.80ZM240.33 169.34h4.80v4.80h-4.80ZM238.98 167.36h4.80v4.80h-4.80ZM236.90 165.88h4.80v4.80h-4.80ZM234.35 165.10h4.80v4.80h-4.80ZM231.65 165.10h4.80v4.80h-4.80ZM229.10 165.88h4.80v4.80h-4.80ZM227.02 167.36h4.80v4.80h-4.80ZM225.67 169.34h4.80v4.80h-4.80ZM225.20 171.60h4.80v4.80h-4.80ZM225.67 173.86h4.80v4.80h-4.80ZM227.02 175.84h4.80v4.80h-4.80ZM229.10 177.32h4.80v4.80h-4.80ZM231.65 178.10h4.80v4.80h-4.80ZM234.35 178.10h4.80v4.80h-4.80ZM236.90 177.32h4.80v4.80h-4.80ZM238.98 175.84h4.80v4.80h-4.80ZM240.33 173.86h4.80v4.80h-4.80ZM243.40 171.60h4.80v4.80h-4.80ZM243.05 169.37h4.80v4.80h-4.80ZM242.01 167.30h4.80v4.80h-4.80ZM240.35 165.52h4.80v4.80h-4.80ZM238.20 164.15h4.80v4.80h-4.80ZM235.69 163.29h4.80v4.80h-4.80ZM233.00 163.00h4.80v4.80h-4.80ZM230.31 163.29h4.80v4.80h-4.80ZM227.80 164.15h4.80v4.80h-4.80ZM225.65 165.52h4.80v4.80h-4.80ZM223.99 167.30h4.80v4.80h-4.80ZM222.95 169.37h4.80v4.80h-4.80ZM222.60 171.60h4.80v4.80h-4.80ZM222.95 173.83h4.80v4.80h-4.80ZM223.99 175.90h4.80v4.80h-4.80ZM225.65 177.68h4.80v4.80h-4.80ZM227.80 179.05h4.80v4.80h-4.80ZM230.31 179.91h4.80v4.80h-4.80ZM233.00 180.20h4.80v4.80h-4.80ZM235.69 179.91h4.80v4.80h-4.80ZM238.20 179.05h4.80v4.80h-4.80ZM240.35 177.68h4.80v4.80h-4.80ZM242.01 175.90h4.80v4.80h-4.80ZM243.05 173.83h4.80v4.80h-4.80ZM246.00 171.60h4.80v4.80h-4.80ZM245.72 169.48h4.80v4.80h-4.80ZM244.88 167.45h4.80v4.80h-4.80ZM243.52 165.60h4.80v4.80h-4.80ZM241.70 164.02h4.80v4.80h-4.80ZM239.50 162.77h4.80v4.80h-4.80ZM237.02 161.90h4.80v4.80h-4.80ZM234.36 161.46h4.80v4.80h-4.80ZM231.64 161.46h4.80v4.80h-4.80ZM228.98 161.90h4.80v4.80h-4.80ZM226.50 162.77h4.80v4.80h-4.80ZM224.30 164.02h4.80v4.80h-4.80ZM222.48 165.60h4.80v4.80h-4.80ZM221.12 167.45h4.80v4.80h-4.80ZM220.28 169.48h4.80v4.80h-4.80ZM220.00 171.60h4.80v4.80h-4.80ZM220.28 173.72h4.80v4.80h-4.80ZM221.12 175.75h4.80v4.80h-4.80ZM222.48 177.60h4.80v4.80h-4.80ZM224.30 179.18h4.80v4.80h-4.80ZM226.50 180.43h4.80v4.80h-4.80ZM228.98 181.30h4.80v4.80h-4.80ZM231.64 181.74h4.80v4.80h-4.80ZM234.36 181.74h4.80v4.80h-4.80ZM237.02 181.30h4.80v4.80h-4.80ZM239.50 180.43h4.80v4.80h-4.80ZM241.70 179.18h4.80v4.80h-4.80ZM243.52 177.60h4.80v4.80h-4.80ZM244.88 175.75h4.80v4.80h-4.80ZM245.72 173.72h4.80v4.80h-4.80ZM248.50 171.60h4.80v4.80h-4.80ZM248.26 169.60h4.80v4.80h-4.80ZM247.57 167.67h4.80v4.80h-4.80ZM246.42 165.85h4.80v4.80h-4.80ZM244.87 164.21h4.80v4.80h-4.80ZM242.96 162.79h4.80v4.80h-4.80ZM240.75 161.64h4.80v4.80h-4.80ZM238.30 160.79h4.80v4.80h-4.80ZM235.69 160.27h4.80v4.80h-4.80ZM233.00 160.10h4.80v4.80h-4.80ZM230.31 160.27h4.80v4.80h-4.80ZM227.70 160.79h4.80v4.80h-4.80ZM225.25 161.64h4.80v4.80h-4.80ZM223.04 162.79h4.80v4.80h-4.80ZM221.13 164.21h4.80v4.80h-4.80ZM219.58 165.85h4.80v4.80h-4.80ZM218.43 167.67h4.80v4.80h-4.80ZM217.74 169.60h4.80v4.80h-4.80ZM217.50 171.60h4.80v4.80h-4.80ZM217.74 173.60h4.80v4.80h-4.80ZM218.43 175.53h4.80v4.80h-4.80ZM219.58 177.35h4.80v4.80h-4.80ZM221.13 178.99h4.80v4.80h-4.80ZM223.04 180.41h4.80v4.80h-4.80ZM225.25 181.56h4.80v4.80h-4.80ZM227.70 182.41h4.80v4.80h-4.80ZM230.31 182.93h4.80v4.80h-4.80ZM233.00 183.10h4.80v4.80h-4.80ZM235.69 182.93h4.80v4.80h-4.80ZM238.30 182.41h4.80v4.80h-4.80ZM240.75 181.56h4.80v4.80h-4.80ZM242.96 180.41h4.80v4.80h-4.80ZM244.87 178.99h4.80v4.80h-4.80ZM246.42 177.35h4.80v4.80h-4.80ZM247.57 175.53h4.80v4.80h-4.80ZM248.26 173.60h4.80v4.80h-4.80Z" fill="#00ff00"/>
<path d="M83.70 263.30h4.40M85.90 261.10v4.40M87.20 263.30h4.40M89.40 261.10v4.40M85.45 260.88h4.40M87.65 258.68v4.40M81.95 260.88h4.40M84.15 258.68v4.40M80.20 263.30h4.40M82.40 261.10v4.40M81.95 265.72h4.40M84.15 263.52v4.40M85.45 265.72h4.40M87.65 263.52v4.40M90.70 263.60h4.40M92.90 261.40v4.40M89.76 260.80h4.40M91.96 258.60v4.40M87.20 258.75h4.40M89.40 256.55v4.40M83.70 258.00h4.40M85.90 255.80v4.40M80.20 258.75h4.40M82.40 256.55v4.40M77.64 260.80h4.40M79.84 258.60v4.40M76.70 263.60h4.40M78.90 261.40v4.40M77.64 266.40h4.40M79.84 264.20v4.40M80.20 268.45h4.40M82.40 266.25v4.40M83.70 269.20h4.40M85.90 267.00v4.40M87.20 268.45h4.40M89.40 266.25v4.40M89.76 266.40h4.40M91.96 264.20v4.40M94.20 263.90h4.40M96.40 261.70v4.40M93.57 261.03h4.40M95.77 258.83v4.40M91.74 258.50h4.40M93.94 256.30v4.40M88.95 256.63h4.40M91.15 254.43v4.40M85.52 255.63h4.40M87.72 253.43v4.40M81.88 255.63h4.40M84.08 253.43v4.40M78.45 256.63h4.40M80.65 254.43v4.40M75.66 258.50h4.40M77.86 256.30v4.40M73.83 261.03h4.40M76.03 258.83v4.40M73.20 263.90h4.40M75.40 261.70v4.40M73.83 266.77h4.40M76.03 264.57v4.40M75.66 269.30h4.40M77.86 267.10v4.40M78.45 271.17h4.40M80.65 268.97v4.40M81.88 272.17h4.40M84.08 269.97v4.40M85.52 272.17h4.40M87.72 269.97v4.40M88.95 271.17h4.40M91.15 268.97v4.40M91.74 269.30h4.40M93.94 267.10v4.40M93.57 266.77h4.40M95.77 264.57v4.40M97.70 264.20h4.40M99.90 262.00v4.40M97.22 261.30h4.40M99.42 259.10v4.40M95.82 258.60h4.40M98.02 256.40v4.40M93.60 256.28h4.40M95.80 254.08v4.40M90.70 254.50h4.40M92.90 252.30v4.40M87.32 253.38h4.40M89.52 251.18v4.40M83.70 253.00h4.40M85.90 250.80v4.40M80.08 253.38h4.40M82.28 251.18v4.40M76.70 254.50h4.40M78.90 252.30v4.40M73.80 256.28h4.40M76.00 254.08v4.40M71.58 258.60h4.40M73.78 256.40v4.40M70.18 261.30h4.40M72.38 259.10v4.40M69.70 264.20h4.40M71.90 262.00v4.40M70.18 267.10h4.40M72.38 264.90v4.40M71.58 269.80h4.40M73.78 267.60v4.40M73.80 272.12h4.40M76.00 269.92v4.40M76.70 273.90h4.40M78.90 271.70v4.40M80.08 275.02h4.40M82.28 272.82v4.40M83.70 275.40h4.40M85.90 273.20v4.40M87.32 275.02h4.40M89.52 272.82v4.40M90.70 273.90h4.40M92.90 271.70v4.40M93.60 272.12h4.40M95.80 269.92v4.40M95.82 269.80h4.40M98.02 267.60v4.40M97.22 267.10h4.40M99.42 264.90v4.40M100.90 264.40h4.40M103.10 262.20v4.40M100.52 261.57h4.40M102.72 259.37v4.40M99.41 258.87h4.40M101.61 256.67v4.40M97.62 256.41h4.40M99.82 254.21v4.40M95.21 254.29h4.40M97.41 252.09v4.40M92.30 252.62h4.40M94.50 250.42v4.40M89.02 251.47h4.40M91.22 249.27v4.40M85.50 250.87h4.40M87.70 248.67v4.40M81.90 250.87h4.40M84.10 248.67v4.40M78.38 251.47h4.40M80.58 249.27v4.40M75.10 252.62h4.40M77.30 250.42v4.40M72.19 254.29h4.40M74.39 252.09v4.40M69.78 256.41h4.40M71.98 254.21v4.40M67.99 258.87h4.40M70.19 256.67v4.40M66.88 261.57h4.40M69.08 259.37v4.40M66.50 264.40h4.40M68.70 262.20v4.40M66.88 267.23h4.40M69.08 265.03v4.40M67.99 269.93h4.40M70.19 267.73v4.40M69.78 272.39h4.40M71.98 270.19v4.40M72.19 274.51h4.40M74.39 272.31v4.40M75.10 276.18h4.40M77.30 273.98v4.40M78.38 277.33h4.40M80.58 275.13v4.40M81.90 277.93h4.40M84.10 275.73v4.40M85.50 277.93h4.40M87.70 275.73v4.40M89.02 277.33h4.40M91.22 275.13v4.40M92.30 276.18h4.40M94.50 273.98v4.40M95.21 274.51h4.40M97.41 272.31v4.40M97.62 272.39h4.40M99.82 270.19v4.40M99.41 269.93h4.40M101.61 267.73v4.40M100.52 267.23h4.40M102.72 265.03v4.40M104.10 264.60h4.40M106.30 262.40v4.40M103.79 261.79h4.40M105.99 259.59v4.40M102.87 259.06h4.40M105.07 256.86v4.40M101.37 256.50h4.40M103.57 254.30v4.40M99.33 254.19h4.40M101.53 251.99v4.40M96.81 252.19h4.40M99.01 249.99v4.40M93.90 250.57h4.40M96.10 248.37v4.40M90.68 249.38h4.40M92.88 247.18v4.40M87.24 248.65h4.40M89.44 246.45v4.40M83.70 248.40h4.40M85.90 246.20v4.40M80.16 248.65h4.40M82.36 246.45v4.40M76.72 249.38h4.40M78.92 247.18v4.40M73.50 250.57h4.40M75.70 248.37v4.40M70.59 252.19h4.40M72.79 249.99v4.40M68.07 254.19h4.40M70.27 251.99v4.40M66.03 256.50h4.40M68.23 254.30v4.40M64.53 259.06h4.40M66.73 256.86v4.40M63.61 261.79h4.40M65.81 259.59v4.40M63.30 264.60h4.40M65.50 262.40v4.40M63.61 267.41h4.40M65.81 265.21v4.40M64.53 270.14h4.40M66.73 267.94v4.40M66.03 272.70h4.40M68.23 270.50v4.40M68.07 275.01h4.40M70.27 272.81v4.40M70.59 277.01h4.40M72.79 274.81v4.40M73.50 278.63h4.40M75.70 276.43v4.40M76.72 279.82h4.40M78.92 277.62v4.40M80.16 280.55h4.40M82.36 278.35v4.40M83.70 280.80h4.40M85.90 278.60v4.40M87.24 280.55h4.40M89.44 278.35v4.40M90.68 279.82h4.40M92.88 277.62v4.40M93.90 278.63h4.40M96.10 276.43v4.40M96.81 277.01h4.40M99.01 274.81v4.40M99.33 275.01h4.40M101.53 272.81v4.40M101.37 272.70h4.40M103.57 270.50v4.40M102.87 270.14h4.40M105.07 267.94v4.40M103.79 267.41h4.40M105.99 265.21v4.40" stroke="#0000ff" stroke-width="0.75" fill="none"/>
<path d="M83.50 260.90h4.80v4.80h-4.80ZM86.10 260.90h4.80v4.80h-4.80ZM84.80 259.43h4.80v4.80h-4.80ZM82.20 259.43h4.80v4.80h-4.80ZM80.90 260.90h4.80v4.80h-4.80ZM82.20 262.37h4.80v4.80h-4.80ZM84.80 262.37h4.80v4.80h-4.80ZM88.70 260.90h4.80v4.80h-4.80ZM88.00 259.20h4.80v4.80h-4.80ZM86.10 257.96h4.80v4.80h-4.80ZM83.50 257.50h4.80v4.80h-4.80ZM80.90 257.96h4.80v4.80h-4.80ZM79.00 259.20h4.80v4.80h-4.80ZM78.30 260.90h4.80v4.80h-4.80ZM79.00 262.60h4.80v4.80h-4.80ZM80.90 263.84h4.80v4.80h-4.80ZM83.50 264.30h4.80v4.80h-4.80ZM86.10 263.84h4.80v4.80h-4.80ZM88.00 262.60h4.80v4.80h-4.80ZM91.30 260.90h4.80v4.80h-4.80ZM90.83 259.19h4.80v4.80h-4.80ZM89.48 257.69h4.80v4.80h-4.80ZM87.40 256.57h4.80v4.80h-4.80ZM84.85 255.98h4.80v4.80h-4.80ZM82.15 255.98h4.80v4.80h-4.80ZM79.60 256.57h4.80v4.80h-4.80ZM77.52 257.69h4.80v4.80h-4.80ZM76.17 259.19h4.80v4.80h-4.80ZM75.70 260.90h4.80v4.80h-4.80ZM76.17 262.61h4.80v4.80h-4.80ZM77.52 264.11h4.80v4.80h-4.80ZM79.60 265.23h4.80v4.80h-4.80ZM82.15 265.82h4.80v4.80h-4.80ZM84.85 265.82h4.80v4.80h-4.80ZM87.40 265.23h4.80v4.80h-4.80ZM89.48 264.11h4.80v4.80h-4.80ZM90.83 262.61h4.80v4.80h-4.80ZM93.90 260.90h4.80v4.80h-4.80ZM93.55 259.19h4.80v4.80h-4.80ZM92.51 257.60h4.80v4.80h-4.80ZM90.85 256.23h4.80v4.80h-4.80ZM88.70 255.18h4.80v4.80h-4.80ZM86.19 254.52h4.80v4.80h-4.80ZM83.50 254.30h4.80v4.80h-4.80ZM80.81 254.52h4.80v4.80h-4.80ZM78.30 255.18h4.80v4.80h-4.80ZM76.15 256.23h4.80v4.80h-4.80ZM74.49 257.60h4.80v4.80h-4.80ZM73.45 259.19h4.80v4.80h-4.80ZM73.10 260.90h4.80v4.80h-4.80ZM73.45 262.61h4.80v4.80h-4.80ZM74.49 264.20h4.80v4.80h-4.80ZM76.15 265.57h4.80v4.80h-4.80ZM78.30 266.62h4.80v4.80h-4.80ZM80.81 267.28h4.80v4.80h-4.80ZM83.50 267.50h4.80v4.80h-4.80ZM86.19 267.28h4.80v4.80h-4.80ZM88.70 266.62h4.80v4.80h-4.80ZM90.85 265.57h4.80v4.80h-4.80ZM92.51 264.20h4.80v4.80h-4.80ZM93.55 262.61h4.80v4.80h-4.80ZM96.50 260.90h4.80v4.80h-4.80ZM96.22 259.24h4.80v4.80h-4.80ZM95.38 257.65h4.80v4.80h-4.80ZM94.02 256.20h4.80v4.80h-4.80ZM92.20 254.95h4.80v4.80h-4.80ZM90.00 253.97h4.80v4.80h-4.80ZM87.52 253.29h4.80v4.80h-4.80ZM84.86 252.94h4.80v4.80h-4.80ZM82.14 252.94h4.80v4.80h-4.80ZM79.48 253.29h4.80v4.80h-4.80ZM77.00 253.97h4.80v4.80h-4.80ZM74.80 254.95h4.80v4.80h-4.80ZM72.98 256.20h4.80v4.80h-4.80ZM71.62 257.65h4.80v4.80h-4.80ZM70.78 259.24h4.80v4.80h-4.80ZM70.50 260.90h4.80v4.80h-4.80ZM70.78 262.56h4.80v4.80h-4.80ZM71.62 264.15h4.80v4.80h-4.80ZM72.98 265.60h4.80v4.80h-4.80ZM74.80 266.85h4.80v4.80h-4.80ZM77.00 267.83h4.80v4.80h-4.80ZM79.48 268.51h4.80v4.80h-4.80ZM82.14 268.86h4.80v4.80h-4.80ZM84.86 268.86h4.80v4.80h-4.80ZM87.52 268.51h4.80v4.80h-4.80ZM90.00 267.83h4.80v4.80h-4.80ZM92.20 266.85h4.80v4.80h-4.80ZM94.02 265.60h4.80v4.80h-4.80ZM95.38 264.15h4.80v4.80h-4.80ZM96.22 262.56h4.80v4.80h-4.80ZM99.10 260.90h4.80v4.80h-4.80ZM98.86 259.34h4.80v4.80h-4.80ZM98.16 257.82h4.80v4.80h-4.80ZM97.01 256.40h4.80v4.80h-4.80ZM95.45 255.11h4.80v4.80h-4.80ZM93.53 254.01h4.80v4.80h-4.80ZM91.30 253.11h4.80v4.80h-4.80ZM88.84 252.44h4.80v4.80h-4.80ZM86.21 252.04h4.80v4.80h-4.80ZM83.50 251.90h4.80v4.80h-4.80ZM80.79 252.04h4.80v4.80h-4.80ZM78.16 252.44h4.80v4.80h-4.80ZM75.70 253.11h4.80v4.80h-4.80ZM73.47 254.01h4.80v4.80h-4.80ZM71.55 255.11h4.80v4.80h-4.80ZM69.99 256.40h4.80v4.80h-4.80ZM68.84 257.82h4.80v4.80h-4.80ZM68.14 259.34h4.80v4.80h-4.80ZM67.90 260.90h4.80v4.80h-4.80ZM68.14 262.46h4.80v4.80h-4.80ZM68.84 263.98h4.80v4.80h-4.80ZM69.99 265.40h4.80v4.80h-4.80ZM71.55 266.69h4.80v4.80h-4.80ZM73.47 267.79h4.80v4.80h-4.80ZM75.70 268.69h4.80v4.80h-4.80ZM78.16 269.36h4.80v4.80h-4.80ZM80.79 269.76h4.80v4.80h-4.80ZM83.50 269.90h4.80v4.80h-4.80ZM86.21 269.76h4.80v4.80h-4.80ZM88.84 269.36h4.80v4.80h-4.80ZM91.30 268.69h4.80v4.80h-4.80ZM93.53 267.79h4.80v4.80h-4.80ZM95.45 266.69h4.80v4.80h-4.80ZM97.01 265.40h4.80v4.80h-4.80ZM98.16 263.98h4.80v4.80h-4.80ZM98.86 262.46h4.80v4.80h-4.80Z" fill="#00ff00"/>
<path d="M382.10 263.00h4.40M384.30 260.80v4.40M385.60 263.00h4.40M387.80 260.80v4.40M383.85 261.09h4.40M386.05 258.89v4.40M380.35 261.09h4.40M382.55 258.89v4.40M378.60 263.00h4.40M380.80 260.80v4.40M380.35 264.91h4.40M382.55 262.71v4.40M383.85 264.91h4.40M386.05 262.71v4.40M389.10 263.30h4.40M391.30 261.10v4.40M388.16 261.10h4.40M390.36 258.90v4.40M385.60 259.49h4.40M387.80 257.29v4.40M382.10 258.90h4.40M384.30 256.70v4.40M378.60 259.49h4.40M380.80 257.29v4.40M376.04 261.10h4.40M378.24 258.90v4.40M375.10 263.30h4.40M377.30 261.10v4.40M376.04 265.50h4.40M378.24 263.30v4.40M378.60 267.11h4.40M380.80 264.91v4.40M382.10 267.70h4.40M384.30 265.50v4.40M385.60 267.11h4.40M387.80 264.91v4.40M388.16 265.50h4.40M390.36 263.30v4.40M392.60 263.60h4.40M394.80 261.40v4.40M391.97 261.34h4.40M394.17 259.14v4.40M390.14 259.36h4.40M392.34 257.16v4.40M387.35 257.88h4.40M389.55 255.68v4.40M383.92 257.10h4.40M386.12 254.90v4.40M380.28 257.10h4.40M382.48 254.90v4.40M376.85 257.88h4.40M379.05 255.68v4.40M374.06 259.36h4.40M376.26 257.16v4.40M372.23 261.34h4.40M374.43 259.14v4.40M371.60 263.60h4.40M373.80 261.40v4.40M372.23 265.86h4.40M374.43 263.66v4.40M374.06 267.84h4.40M376.26 265.64v4.40M376.85 269.32h4.40M379.05 267.12v4.40M380.28 270.10h4.40M382.48 267.90v4.40M383.92 270.10h4.40M386.12 267.90v4.40M387.35 269.32h4.40M389.55 267.12v4.40M390.14 267.84h4.40M392.34 265.64v4.40M391.97 265.86h4.40M394.17 263.66v4.40M396.10 263.90h4.40M398.30 261.70v4.40M395.62 261.62h4.40M397.82 259.42v4.40M394.22 259.50h4.40M396.42 257.30v4.40M392.00 257.68h4.40M394.20 255.48v4.40M389.10 256.28h4.40M391.30 254.08v4.40M385.72 255.40h4.40M387.92 253.20v4.40M382.10 255.10h4.40M384.30 252.90v4.40M378.48 255.40h4.40M380.68 253.20v4.40M375.10 256.28h4.40M377.30 254.08v4.40M372.20 257.68h4.40M374.40 255.48v4.40M369.98 259.50h4.40M372.18 257.30v4.40M368.58 261.62h4.40M370.78 259.42v4.40M368.10 263.90h4.40M370.30 261.70v4.40M368.58 266.18h4.40M370.78 263.98v4.40M369.98 268.30h4.40M372.18 266.10v4.40M372.20 270.12h4.40M374.40 267.92v4.40M375.10 271.52h4.40M377.30 269.32v4.40M378.48 272.40h4.40M380.68 270.20v4.40M382.10 272.70h4.40M384.30 270.50v4.40M385.72 272.40h4.40M387.92 270.20v4.40M389.10 271.52h4.40M391.30 269.32v4.40M392.00 270.12h4.40M394.20 267.92v4.40M394.22 268.30h4.40M396.42 266.10v4.40M395.62 266.18h4.40M397.82 263.98v4.40M399.40 264.20h4.40M401.60 262.00v4.40M399.02 261.91h4.40M401.22 259.71v4.40M397.90 259.73h4.40M400.10 257.53v4.40M396.10 257.73h4.40M398.30 255.53v4.40M393.68 256.03h4.40M395.88 253.83v4.40M390.75 254.67h4.40M392.95 252.47v4.40M387.45 253.74h4.40M389.65 251.54v4.40M383.91 253.26h4.40M386.11 251.06v4.40M380.29 253.26h4.40M382.49 251.06v4.40M376.75 253.74h4.40M378.95 251.54v4.40M373.45 254.67h4.40M375.65 252.47v4.40M370.52 256.03h4.40M372.72 253.83v4.40M368.10 257.73h4.40M370.30 255.53v4.40M366.30 259.73h4.40M368.50 257.53v4.40M365.18 261.91h4.40M367.38 259.71v4.40M364.80 264.20h4.40M367.00 262.00v4.40M365.18 266.49h4.40M367.38 264.29v4.40M366.30 268.67h4.40M368.50 266.47v4.40M368.10 270.67h4.40M370.30 268.47v4.40M370.52 272.37h4.40M372.72 270.17v4.40M373.45 273.73h4.40M375.65 271.53v4.40M376.75 274.66h4.40M378.95 272.46v4.40M380.29 275.14h4.40M382.49 272.94v4.40M383.91 275.14h4.40M386.11 272.94v4.40M387.45 274.66h4.40M389.65 272.46v4.40M390.75 273.73h4.40M392.95 271.53v4.40M393.68 272.37h4.40M395.88 270.17v4.40M396.10 270.67h4.40M398.30 268.47v4.40M397.90 268.67h4.40M400.10 266.47v4.40M399.02 266.49h4.40M401.22 264.29v4.40M402.70 264.40h4.40M404.90 262.20v4.40M402.39 262.09h4.40M404.59 259.89v4.40M401.46 259.85h4.40M403.66 257.65v4.40M399.94 257.75h4.40M402.14 255.55v4.40M397.88 255.85h4.40M400.08 253.65v4.40M395.34 254.21h4.40M397.54 252.01v4.40M392.40 252.88h4.40M394.60 250.68v4.40M389.15 251.90h4.40M391.35 249.70v4.40M385.68 251.30h4.40M387.88 249.10v4.40M382.10 251.10h4.40M384.30 248.90v4.40M378.52 251.30h4.40M380.72 249.10v4.40M375.05 251.90h4.40M377.25 249.70v4.40M371.80 252.88h4.40M374.00 250.68v4.40M368.86 254.21h4.40M371.06 252.01v4.40M366.32 255.85h4.40M368.52 253.65v4.40M364.26 257.75h4.40M366.46 255.55v4.40M362.74 259.85h4.40M364.94 257.65v4.40M361.81 262.09h4.40M364.01 259.89v4.40M361.50 264.40h4.40M363.70 262.20v4.40M361.81 266.71h4.40M364.01 264.51v4.40M362.74 268.95h4.40M364.94 266.75v4.40M364.26 271.05h4.40M366.46 268.85v4.40M366.32 272.95h4.40M368.52 270.75v4.40M368.86 274.59h4.40M371.06 272.39v4.40M371.80 275.92h4.40M374.00 273.72v4.40M375.05 276.90h4.40M377.25 274.70v4.40M378.52 277.50h4.40M380.72 275.30v4.40M382.10 277.70h4.40M384.30 275.50v4.40M385.68 277.50h4.40M387.88 275.30v4.40M389.15 276.90h4.40M391.35 274.70v4.40M392.40 275.92h4.40M394.60 273.72v4.40M395.34 274.59h4.40M397.54 272.39v4.40M397.88 272.95h4.40M400.08 270.75v4.40M399.94 271.05h4.40M402.14 268.85v4.40M401.46 268.95h4.40M403.66 266.75v4.40M402.39 266.71h4.40M404.59 264.51v4.40" stroke="#0000ff" stroke-width="0.75" fill="none"/>
<path d="M381.90 260.60h4.80v4.80h-4.80ZM384.50 260.60h4.80v4.80h-4.80ZM383.20 259.73h4.80v4.80h-4.80ZM380.60 259.73h4.80v4.80h-4.80ZM379.30 260.60h4.80v4.80h-4.80ZM380.60 261.47h4.80v4.80h-4.80ZM383.20 261.47h4.80v4.80h-4.80ZM387.10 260.60h4.80v4.80h-4.80ZM386.40 259.60h4.80v4.80h-4.80ZM384.50 258.87h4.80v4.80h-4.80ZM381.90 258.60h4.80v4.80h-4.80ZM379.30 258.87h4.80v4.80h-4.80ZM377.40 259.60h4.80v4.80h-4.80ZM376.70 260.60h4.80v4.80h-4.80ZM377.40 261.60h4.80v4.80h-4.80ZM379.30 262.33h4.80v4.80h-4.80ZM381.90 262.60h4.80v4.80h-4.80ZM384.50 262.33h4.80v4.80h-4.80ZM386.40 261.60h4.80v4.80h-4.80ZM389.70 260.60h4.80v4.80h-4.80ZM389.23 259.57h4.80v4.80h-4.80ZM387.88 258.67h4.80v4.80h-4.80ZM385.80 258.00h4.80v4.80h-4.80ZM383.25 257.65h4.80v4.80h-4.80ZM380.55 257.65h4.80v4.80h-4.80ZM378.00 258.00h4.80v4.80h-4.80ZM375.92 258.67h4.80v4.80h-4.80ZM374.57 259.57h4.80v4.80h-4.80ZM374.10 260.60h4.80v4.80h-4.80ZM374.57 261.63h4.80v4.80h-4.80ZM375.92 262.53h4.80v4.80h-4.80ZM378.00 263.20h4.80v4.80h-4.80ZM380.55 263.55h4.80v4.80h-4.80ZM383.25 263.55h4.80v4.80h-4.80ZM385.80 263.20h4.80v4.80h-4.80ZM387.88 262.53h4.80v4.80h-4.80ZM389.23 261.63h4.80v4.80h-4.80ZM392.30 260.60h4.80v4.80h-4.80ZM391.95 259.56h4.80v4.80h-4.80ZM390.91 258.60h4.80v4.80h-4.80ZM389.25 257.77h4.80v4.80h-4.80ZM387.10 257.14h4.80v4.80h-4.80ZM384.59 256.74h4.80v4.80h-4.80ZM381.90 256.60h4.80v4.80h-4.80ZM379.21 256.74h4.80v4.80h-4.80ZM376.70 257.14h4.80v4.80h-4.80ZM374.55 257.77h4.80v4.80h-4.80ZM372.89 258.60h4.80v4.80h-4.80ZM371.85 259.56h4.80v4.80h-4.80ZM371.50 260.60h4.80v4.80h-4.80ZM371.85 261.64h4.80v4.80h-4.80ZM372.89 262.60h4.80v4.80h-4.80ZM374.55 263.43h4.80v4.80h-4.80ZM376.70 264.06h4.80v4.80h-4.80ZM379.21 264.46h4.80v4.80h-4.80ZM381.90 264.60h4.80v4.80h-4.80ZM384.59 264.46h4.80v4.80h-4.80ZM387.10 264.06h4.80v4.80h-4.80ZM389.25 263.43h4.80v4.80h-4.80ZM390.91 262.60h4.80v4.80h-4.80ZM391.95 261.64h4.80v4.80h-4.80ZM394.90 260.60h4.80v4.80h-4.80ZM394.62 259.56h4.80v4.80h-4.80ZM393.78 258.57h4.80v4.80h-4.80ZM392.42 257.66h4.80v4.80h-4.80ZM390.60 256.88h4.80v4.80h-4.80ZM388.40 256.27h4.80v4.80h-4.80ZM385.92 255.84h4.80v4.80h-4.80ZM383.26 255.63h4.80v4.80h-4.80ZM380.54 255.63h4.80v4.80h-4.80ZM377.88 255.84h4.80v4.80h-4.80ZM375.40 256.27h4.80v4.80h-4.80ZM373.20 256.88h4.80v4.80h-4.80ZM371.38 257.66h4.80v4.80h-4.80ZM370.02 258.57h4.80v4.80h-4.80ZM369.18 259.56h4.80v4.80h-4.80ZM368.90 260.60h4.80v4.80h-4.80ZM369.18 261.64h4.80v4.80h-4.80ZM370.02 262.63h4.80v4.80h-4.80ZM371.38 263.54h4.80v4.80h-4.80ZM373.20 264.32h4.80v4.80h-4.80ZM375.40 264.93h4.80v4.80h-4.80ZM377.88 265.36h4.80v4.80h-4.80ZM380.54 265.57h4.80v4.80h-4.80ZM383.26 265.57h4.80v4.80h-4.80ZM385.92 265.36h4.80v4.80h-4.80ZM388.40 264.93h4.80v4.80h-4.80ZM390.60 264.32h4.80v4.80h-4.80ZM392.42 263.54h4.80v4.80h-4.80ZM393.78 262.63h4.80v4.80h-4.80ZM394.62 261.64h4.80v4.80h-4.80ZM397.70 260.60h4.80v4.80h-4.80ZM397.46 259.56h4.80v4.80h-4.80ZM396.75 258.55h4.80v4.80h-4.80ZM395.58 257.60h4.80v4.80h-4.80ZM394.00 256.74h4.80v4.80h-4.80ZM392.06 256.00h4.80v4.80h-4.80ZM389.80 255.40h4.80v4.80h-4.80ZM387.30 254.96h4.80v4.80h-4.80ZM384.64 254.69h4.80v4.80h-4.80ZM381.90 254.60h4.80v4.80h-4.80ZM379.16 254.69h4.80v4.80h-4.80ZM376.50 254.96h4.80v4.80h-4.80ZM374.00 255.40h4.80v4.80h-4.80ZM371.74 256.00h4.80v4.80h-4.80ZM369.80 256.74h4.80v4.80h-4.80ZM368.22 257.60h4.80v4.80h-4.80ZM367.05 258.55h4.80v4.80h-4.80ZM366.34 259.56h4.80v4.80h-4.80ZM366.10 260.60h4.80v4.80h-4.80ZM366.34 261.64h4.80v4.80h-4.80ZM367.05 262.65h4.80v4.80h-4.80ZM368.22 263.60h4.80v4.80h-4.80ZM369.80 264.46h4.80v4.80h-4.80ZM371.74 265.20h4.80v4.80h-4.80ZM374.00 265.80h4.80v4.80h-4.80ZM376.50 266.24h4.80v4.80h-4.80ZM379.16 266.51h4.80v4.80h-4.80ZM381.90 266.60h4.80v4.80h-4.80ZM384.64 266.51h4.80v4.80h-4.80ZM387.30 266.24h4.80v4.80h-4.80ZM389.80 265.80h4.80v4.80h-4.80ZM392.06 265.20h4.80v4.80h-4.80ZM394.00 264.46h4.80v4.80h-4.80ZM395.58 263.60h4.80v4.80h-4.80ZM396.75 262.65h4.80v4.80h-4.80ZM397.46 261.64h4.80v4.80h-4.80Z" fill="#00ff00"/>
<rect x="471.85" y="25.10" width="6.7" height="6.4" fill="#eaf7ea" stroke="#1e2e1e" stroke-width="1.25"/>
<path d="M473.00 27.45l2.2 2.5l2.3 -2.9" stroke="#1aa52a" stroke-width="1.7" fill="none"/>
<path d="M483.10 28.15h4.40M485.30 25.95v4.40" stroke="#6a5cf0" stroke-width="0.9" fill="none" opacity="0.75"/>
<rect x="471.85" y="42.25" width="6.7" height="6.4" fill="#eaf7ea" stroke="#1e2e1e" stroke-width="1.25"/>
<path d="M473.00 44.60l2.2 2.5l2.3 -2.9" stroke="#1aa52a" stroke-width="1.7" fill="none"/>
<path d="M482.90 43.00h4.80v4.80h-4.80Z" fill="#00ff00"/>
<rect x="471.85" y="59.55" width="6.7" height="6.4" fill="#eaf7ea" stroke="#1e2e1e" stroke-width="1.25"/>
<path d="M473.00 61.90l2.2 2.5l2.3 -2.9" stroke="#1aa52a" stroke-width="1.7" fill="none"/>
<path d="M485.30 60.85L482.80 64.80L487.80 64.80Z" fill="#ff0000"/>
</g>
<g filter="url(#soft2)">
<path d="M85.90 82.25L83.40 86.20L88.40 86.20ZM93.20 82.25L90.70 86.20L95.70 86.20ZM89.55 75.93L87.05 79.88L92.05 79.88ZM82.25 75.93L79.75 79.88L84.75 79.88ZM78.60 82.25L76.10 86.20L81.10 86.20ZM82.25 88.57L79.75 92.52L84.75 92.52ZM89.55 88.57L87.05 92.52L92.05 92.52ZM97.90 82.25L95.40 86.20L100.40 86.20ZM96.29 76.25L93.79 80.20L98.79 80.20ZM91.90 71.86L89.40 75.81L94.40 75.81ZM85.90 70.25L83.40 74.20L88.40 74.20ZM79.90 71.86L77.40 75.81L82.40 75.81ZM75.51 76.25L73.01 80.20L78.01 80.20ZM73.90 82.25L71.40 86.20L76.40 86.20ZM75.51 88.25L73.01 92.20L78.01 92.20ZM79.90 92.64L77.40 96.59L82.40 96.59ZM85.90 94.25L83.40 98.20L88.40 98.20ZM91.90 92.64L89.40 96.59L94.40 96.59ZM96.29 88.25L93.79 92.20L98.79 92.20ZM105.10 82.25L102.60 86.20L107.60 86.20ZM103.94 75.68L101.44 79.63L106.44 79.63ZM100.61 69.91L98.11 73.86L103.11 73.86ZM95.50 65.62L93.00 69.57L98.00 69.57ZM89.23 63.34L86.73 67.29L91.73 67.29ZM82.57 63.34L80.07 67.29L85.07 67.29ZM76.30 65.62L73.80 69.57L78.80 69.57ZM71.19 69.91L68.69 73.86L73.69 73.86ZM67.86 75.68L65.36 79.63L70.36 79.63ZM66.70 82.25L64.20 86.20L69.20 86.20ZM67.86 88.82L65.36 92.77L70.36 92.77ZM71.19 94.59L68.69 98.54L73.69 98.54ZM76.30 98.88L73.80 102.83L78.80 102.83ZM82.57 101.16L80.07 105.11L85.07 105.11ZM89.23 101.16L86.73 105.11L91.73 105.11ZM95.50 98.88L93.00 102.83L98.00 102.83ZM100.61 94.59L98.11 98.54L103.11 98.54ZM103.94 88.82L101.44 92.77L106.44 92.77ZM98.10 82.25L95.60 86.20L100.60 86.20ZM97.68 79.09L95.18 83.04L100.18 83.04ZM96.47 76.15L93.97 80.10L98.97 80.10ZM94.53 73.62L92.03 77.57L97.03 77.57ZM92.00 71.68L89.50 75.63L94.50 75.63ZM89.06 70.47L86.56 74.42L91.56 74.42ZM85.90 70.05L83.40 74.00L88.40 74.00ZM82.74 70.47L80.24 74.42L85.24 74.42ZM79.80 71.68L77.30 75.63L82.30 75.63ZM77.27 73.62L74.77 77.57L79.77 77.57ZM75.33 76.15L72.83 80.10L77.83 80.10ZM74.12 79.09L71.62 83.04L76.62 83.04ZM73.70 82.25L71.20 86.20L76.20 86.20ZM74.12 85.41L71.62 89.36L76.62 89.36ZM75.33 88.35L72.83 92.30L77.83 92.30ZM77.27 90.88L74.77 94.83L79.77 94.83ZM79.80 92.82L77.30 96.77L82.30 96.77ZM82.74 94.03L80.24 97.98L85.24 97.98ZM85.90 94.45L83.40 98.40L88.40 98.40ZM89.06 94.03L86.56 97.98L91.56 97.98ZM92.00 92.82L89.50 96.77L94.50 96.77ZM94.53 90.88L92.03 94.83L97.03 94.83ZM96.47 88.35L93.97 92.30L98.97 92.30ZM97.68 85.41L95.18 89.36L100.18 89.36ZM105.30 82.25L102.80 86.20L107.80 86.20ZM104.88 78.22L102.38 82.17L107.38 82.17ZM103.62 74.36L101.12 78.31L106.12 78.31ZM101.59 70.85L99.09 74.80L104.09 74.80ZM98.88 67.83L96.38 71.78L101.38 71.78ZM95.60 65.45L93.10 69.40L98.10 69.40ZM91.89 63.80L89.39 67.75L94.39 67.75ZM87.93 62.96L85.43 66.91L90.43 66.91ZM83.87 62.96L81.37 66.91L86.37 66.91ZM79.91 63.80L77.41 67.75L82.41 67.75ZM76.20 65.45L73.70 69.40L78.70 69.40ZM72.92 67.83L70.42 71.78L75.42 71.78ZM70.21 70.85L67.71 74.80L72.71 74.80ZM68.18 74.36L65.68 78.31L70.68 78.31ZM66.92 78.22L64.42 82.17L69.42 82.17ZM66.50 82.25L64.00 86.20L69.00 86.20ZM66.92 86.28L64.42 90.23L69.42 90.23ZM68.18 90.14L65.68 94.09L70.68 94.09ZM70.21 93.65L67.71 97.60L72.71 97.60ZM72.92 96.67L70.42 100.62L75.42 100.62ZM76.20 99.05L73.70 103.00L78.70 103.00ZM79.91 100.70L77.41 104.65L82.41 104.65ZM83.87 101.54L81.37 105.49L86.37 105.49ZM87.93 101.54L85.43 105.49L90.43 105.49ZM91.89 100.70L89.39 104.65L94.39 104.65ZM95.60 99.05L93.10 103.00L98.10 103.00ZM98.88 96.67L96.38 100.62L101.38 100.62ZM101.59 93.65L99.09 97.60L104.09 97.60ZM103.62 90.14L101.12 94.09L106.12 94.09ZM104.88 86.28L102.38 90.23L107.38 90.23ZM132.90 82.25L130.40 86.20L135.40 86.20ZM132.19 74.09L129.69 78.04L134.69 78.04ZM130.07 66.18L127.57 70.13L132.57 70.13ZM126.60 58.75L124.10 62.70L129.10 62.70ZM121.90 52.04L119.40 55.99L124.40 55.99ZM116.11 46.25L113.61 50.20L118.61 50.20ZM109.40 41.55L106.90 45.50L111.90 45.50ZM101.97 38.08L99.47 42.03L104.47 42.03ZM94.06 35.96L91.56 39.91L96.56 39.91ZM85.90 35.25L83.40 39.20L88.40 39.20ZM77.74 35.96L75.24 39.91L80.24 39.91ZM69.83 38.08L67.33 42.03L72.33 42.03ZM62.40 41.55L59.90 45.50L64.90 45.50ZM55.69 46.25L53.19 50.20L58.19 50.20ZM49.90 52.04L47.40 55.99L52.40 55.99ZM45.20 58.75L42.70 62.70L47.70 62.70ZM41.73 66.18L39.23 70.13L44.23 70.13ZM39.61 74.09L37.11 78.04L42.11 78.04ZM38.90 82.25L36.40 86.20L41.40 86.20ZM39.61 90.41L37.11 94.36L42.11 94.36ZM41.73 98.32L39.23 102.27L44.23 102.27ZM45.20 105.75L42.70 109.70L47.70 109.70ZM49.90 112.46L47.40 116.41L52.40 116.41ZM55.69 118.25L53.19 122.20L58.19 122.20ZM62.40 122.95L59.90 126.90L64.90 126.90ZM69.83 126.42L67.33 130.37L72.33 130.37ZM77.74 128.54L75.24 132.49L80.24 132.49ZM85.90 129.25L83.40 133.20L88.40 133.20ZM94.06 128.54L91.56 132.49L96.56 132.49ZM101.97 126.42L99.47 130.37L104.47 130.37ZM109.40 122.95L106.90 126.90L111.90 126.90ZM116.11 118.25L113.61 122.20L118.61 122.20ZM121.90 112.46L119.40 116.41L124.40 116.41ZM126.60 105.75L124.10 109.70L129.10 109.70ZM130.07 98.32L127.57 102.27L132.57 102.27ZM132.19 90.41L129.69 94.36L134.69 94.36Z" fill="#ff0000"/>
<path d="M384.20 83.35L381.70 87.30L386.70 87.30ZM391.20 83.35L388.70 87.30L393.70 87.30ZM387.70 77.29L385.20 81.24L390.20 81.24ZM380.70 77.29L378.20 81.24L383.20 81.24ZM377.20 83.35L374.70 87.30L379.70 87.30ZM380.70 89.41L378.20 93.36L383.20 93.36ZM387.70 89.41L385.20 93.36L390.20 93.36ZM396.20 81.75L393.70 85.70L398.70 85.70ZM394.59 75.65L392.09 79.60L397.09 79.60ZM390.20 71.18L387.70 75.13L392.70 75.13ZM384.20 69.55L381.70 73.50L386.70 73.50ZM378.20 71.18L375.70 75.13L380.70 75.13ZM373.81 75.65L371.31 79.60L376.31 79.60ZM372.20 81.75L369.70 85.70L374.70 85.70ZM373.81 87.85L371.31 91.80L376.31 91.80ZM378.20 92.32L375.70 96.27L380.70 96.27ZM384.20 93.95L381.70 97.90L386.70 97.90ZM390.20 92.32L387.70 96.27L392.70 96.27ZM394.59 87.85L392.09 91.80L397.09 91.80ZM402.90 80.90L400.40 84.85L405.40 84.85ZM401.77 75.48L399.27 79.43L404.27 79.43ZM398.53 70.71L396.03 74.66L401.03 74.66ZM393.55 67.17L391.05 71.12L396.05 71.12ZM387.45 65.29L384.95 69.24L389.95 69.24ZM380.95 65.29L378.45 69.24L383.45 69.24ZM374.85 67.17L372.35 71.12L377.35 71.12ZM369.87 70.71L367.37 74.66L372.37 74.66ZM366.63 75.48L364.13 79.43L369.13 79.43ZM365.50 80.90L363.00 84.85L368.00 84.85ZM366.63 86.32L364.13 90.27L369.13 90.27ZM369.87 91.09L367.37 95.04L372.37 95.04ZM374.85 94.63L372.35 98.58L377.35 98.58ZM380.95 96.51L378.45 100.46L383.45 100.46ZM387.45 96.51L384.95 100.46L389.95 100.46ZM393.55 94.63L391.05 98.58L396.05 98.58ZM398.53 91.09L396.03 95.04L401.03 95.04ZM401.77 86.32L399.27 90.27L404.27 90.27ZM396.40 81.75L393.90 85.70L398.90 85.70ZM395.98 78.51L393.48 82.46L398.48 82.46ZM394.77 75.50L392.27 79.45L397.27 79.45ZM392.83 72.91L390.33 76.86L395.33 76.86ZM390.30 70.92L387.80 74.87L392.80 74.87ZM387.36 69.68L384.86 73.63L389.86 73.63ZM384.20 69.25L381.70 73.20L386.70 73.20ZM381.04 69.68L378.54 73.63L383.54 73.63ZM378.10 70.92L375.60 74.87L380.60 74.87ZM375.57 72.91L373.07 76.86L378.07 76.86ZM373.63 75.50L371.13 79.45L376.13 79.45ZM372.42 78.51L369.92 82.46L374.92 82.46ZM372.00 81.75L369.50 85.70L374.50 85.70ZM372.42 84.99L369.92 88.94L374.92 88.94ZM373.63 88.00L371.13 91.95L376.13 91.95ZM375.57 90.59L373.07 94.54L378.07 94.54ZM378.10 92.58L375.60 96.53L380.60 96.53ZM381.04 93.82L378.54 97.77L383.54 97.77ZM384.20 94.25L381.70 98.20L386.70 98.20ZM387.36 93.82L384.86 97.77L389.86 97.77ZM390.30 92.58L387.80 96.53L392.80 96.53ZM392.83 90.59L390.33 94.54L395.33 94.54ZM394.77 88.00L392.27 91.95L397.27 91.95ZM395.98 84.99L393.48 88.94L398.48 88.94ZM403.10 82.20L400.60 86.15L405.60 86.15ZM402.69 78.59L400.19 82.54L405.19 82.54ZM401.47 75.14L398.97 79.09L403.97 79.09ZM399.49 72.00L396.99 75.95L401.99 75.95ZM396.85 69.31L394.35 73.26L399.35 73.26ZM393.65 67.17L391.15 71.12L396.15 71.12ZM390.04 65.70L387.54 69.65L392.54 69.65ZM386.18 64.95L383.68 68.90L388.68 68.90ZM382.22 64.95L379.72 68.90L384.72 68.90ZM378.36 65.70L375.86 69.65L380.86 69.65ZM374.75 67.17L372.25 71.12L377.25 71.12ZM371.55 69.31L369.05 73.26L374.05 73.26ZM368.91 72.00L366.41 75.95L371.41 75.95ZM366.93 75.14L364.43 79.09L369.43 79.09ZM365.71 78.59L363.21 82.54L368.21 82.54ZM365.30 82.20L362.80 86.15L367.80 86.15ZM365.71 85.81L363.21 89.76L368.21 89.76ZM366.93 89.26L364.43 93.21L369.43 93.21ZM368.91 92.40L366.41 96.35L371.41 96.35ZM371.55 95.09L369.05 99.04L374.05 99.04ZM374.75 97.23L372.25 101.18L377.25 101.18ZM378.36 98.70L375.86 102.65L380.86 102.65ZM382.22 99.45L379.72 103.40L384.72 103.40ZM386.18 99.45L383.68 103.40L388.68 103.40ZM390.04 98.70L387.54 102.65L392.54 102.65ZM393.65 97.23L391.15 101.18L396.15 101.18ZM396.85 95.09L394.35 99.04L399.35 99.04ZM399.49 92.40L396.99 96.35L401.99 96.35ZM401.47 89.26L398.97 93.21L403.97 93.21ZM402.69 85.81L400.19 89.76L405.19 89.76ZM384.40 37.55L381.90 41.50L386.90 41.50ZM392.80 37.95L390.30 41.90L395.30 41.90ZM376.00 37.95L373.50 41.90L378.50 41.90ZM401.10 40.15L398.60 44.10L403.60 44.10ZM367.70 40.15L365.20 44.10L370.20 44.10ZM408.80 43.55L406.30 47.50L411.30 47.50ZM360.00 43.55L357.50 47.50L362.50 47.50ZM415.50 47.95L413.00 51.90L418.00 51.90ZM353.30 47.95L350.80 51.90L355.80 51.90ZM421.50 53.55L419.00 57.50L424.00 57.50ZM347.30 53.55L344.80 57.50L349.80 57.50ZM426.60 59.75L424.10 63.70L429.10 63.70ZM342.20 59.75L339.70 63.70L344.70 63.70ZM430.00 66.85L427.50 70.80L432.50 70.80ZM338.80 66.85L336.30 70.80L341.30 70.80ZM431.70 74.15L429.20 78.10L434.20 78.10ZM337.10 74.15L334.60 78.10L339.60 78.10ZM432.20 81.95L429.70 85.90L434.70 85.90ZM336.60 81.95L334.10 85.90L339.10 85.90ZM430.40 89.75L427.90 93.70L432.90 93.70ZM338.40 89.75L335.90 93.70L340.90 93.70ZM427.10 97.05L424.60 101.00L429.60 101.00ZM341.70 97.05L339.20 101.00L344.20 101.00ZM422.20 103.55L419.70 107.50L424.70 107.50ZM346.60 103.55L344.10 107.50L349.10 107.50ZM416.60 108.65L414.10 112.60L419.10 112.60ZM352.20 108.65L349.70 112.60L354.70 112.60ZM410.40 112.65L407.90 116.60L412.90 116.60ZM358.40 112.65L355.90 116.60L360.90 116.60ZM404.40 115.75L401.90 119.70L406.90 119.70ZM364.40 115.75L361.90 119.70L366.90 119.70ZM397.70 117.55L395.20 121.50L400.20 121.50ZM371.10 117.55L368.60 121.50L373.60 121.50ZM391.10 118.65L388.60 122.60L393.60 122.60ZM377.70 118.65L375.20 122.60L380.20 122.60ZM384.40 119.05L381.90 123.00L386.90 123.00Z" fill="#ff0000"/>
<path d="M235.40 171.95L232.90 175.90L237.90 175.90ZM242.30 171.95L239.80 175.90L244.80 175.90ZM238.85 165.97L236.35 169.92L241.35 169.92ZM231.95 165.97L229.45 169.92L234.45 169.92ZM228.50 171.95L226.00 175.90L231.00 175.90ZM231.95 177.93L229.45 181.88L234.45 181.88ZM238.85 177.93L236.35 181.88L241.35 181.88ZM247.40 171.95L244.90 175.90L249.90 175.90ZM245.79 166.20L243.29 170.15L248.29 170.15ZM241.40 161.99L238.90 165.94L243.90 165.94ZM235.40 160.45L232.90 164.40L237.90 164.40ZM229.40 161.99L226.90 165.94L231.90 165.94ZM225.01 166.20L222.51 170.15L227.51 170.15ZM223.40 171.95L220.90 175.90L225.90 175.90ZM225.01 177.70L222.51 181.65L227.51 181.65ZM229.40 181.91L226.90 185.86L231.90 185.86ZM235.40 183.45L232.90 187.40L237.90 187.40ZM241.40 181.91L238.90 185.86L243.90 185.86ZM245.79 177.70L243.29 181.65L248.29 181.65ZM253.20 171.95L250.70 175.90L255.70 175.90ZM252.13 167.40L249.63 171.35L254.63 171.35ZM249.04 163.40L246.54 167.35L251.54 167.35ZM244.30 160.43L241.80 164.38L246.80 164.38ZM238.49 158.85L235.99 162.80L240.99 162.80ZM232.31 158.85L229.81 162.80L234.81 162.80ZM226.50 160.43L224.00 164.38L229.00 164.38ZM221.76 163.40L219.26 167.35L224.26 167.35ZM218.67 167.40L216.17 171.35L221.17 171.35ZM217.60 171.95L215.10 175.90L220.10 175.90ZM218.67 176.50L216.17 180.45L221.17 180.45ZM221.76 180.50L219.26 184.45L224.26 184.45ZM226.50 183.47L224.00 187.42L229.00 187.42ZM232.31 185.05L229.81 189.00L234.81 189.00ZM238.49 185.05L235.99 189.00L240.99 189.00ZM244.30 183.47L241.80 187.42L246.80 187.42ZM249.04 180.50L246.54 184.45L251.54 184.45ZM252.13 176.50L249.63 180.45L254.63 180.45ZM247.70 171.95L245.20 175.90L250.20 175.90ZM247.28 168.87L244.78 172.82L249.78 172.82ZM246.05 166.00L243.55 169.95L248.55 169.95ZM244.10 163.54L241.60 167.49L246.60 167.49ZM241.55 161.64L239.05 165.59L244.05 165.59ZM238.58 160.46L236.08 164.41L241.08 164.41ZM235.40 160.05L232.90 164.00L237.90 164.00ZM232.22 160.46L229.72 164.41L234.72 164.41ZM229.25 161.64L226.75 165.59L231.75 165.59ZM226.70 163.54L224.20 167.49L229.20 167.49ZM224.75 166.00L222.25 169.95L227.25 169.95ZM223.52 168.87L221.02 172.82L226.02 172.82ZM223.10 171.95L220.60 175.90L225.60 175.90ZM223.52 175.03L221.02 178.98L226.02 178.98ZM224.75 177.90L222.25 181.85L227.25 181.85ZM226.70 180.36L224.20 184.31L229.20 184.31ZM229.25 182.26L226.75 186.21L231.75 186.21ZM232.22 183.44L229.72 187.39L234.72 187.39ZM235.40 183.85L232.90 187.80L237.90 187.80ZM238.58 183.44L236.08 187.39L241.08 187.39ZM241.55 182.26L239.05 186.21L244.05 186.21ZM244.10 180.36L241.60 184.31L246.60 184.31ZM246.05 177.90L243.55 181.85L248.55 181.85ZM247.28 175.03L244.78 178.98L249.78 178.98ZM254.70 171.95L252.20 175.90L257.20 175.90ZM254.28 169.00L251.78 172.95L256.78 172.95ZM253.03 166.17L250.53 170.12L255.53 170.12ZM251.01 163.60L248.51 167.55L253.51 167.55ZM248.31 161.40L245.81 165.35L250.81 165.35ZM245.05 159.65L242.55 163.60L247.55 163.60ZM241.36 158.44L238.86 162.39L243.86 162.39ZM237.42 157.83L234.92 161.78L239.92 161.78ZM233.38 157.83L230.88 161.78L235.88 161.78ZM229.44 158.44L226.94 162.39L231.94 162.39ZM225.75 159.65L223.25 163.60L228.25 163.60ZM222.49 161.40L219.99 165.35L224.99 165.35ZM219.79 163.60L217.29 167.55L222.29 167.55ZM217.77 166.17L215.27 170.12L220.27 170.12ZM216.52 169.00L214.02 172.95L219.02 172.95ZM216.10 171.95L213.60 175.90L218.60 175.90ZM216.52 174.90L214.02 178.85L219.02 178.85ZM217.77 177.73L215.27 181.68L220.27 181.68ZM219.79 180.30L217.29 184.25L222.29 184.25ZM222.49 182.50L219.99 186.45L224.99 186.45ZM225.75 184.25L223.25 188.20L228.25 188.20ZM229.44 185.46L226.94 189.41L231.94 189.41ZM233.38 186.07L230.88 190.02L235.88 190.02ZM237.42 186.07L234.92 190.02L239.92 190.02ZM241.36 185.46L238.86 189.41L243.86 189.41ZM245.05 184.25L242.55 188.20L247.55 188.20ZM248.31 182.50L245.81 186.45L250.81 186.45ZM251.01 180.30L248.51 184.25L253.51 184.25ZM253.03 177.73L250.53 181.68L255.53 181.68ZM254.28 174.90L251.78 178.85L256.78 178.85ZM235.40 141.55L232.90 145.50L237.90 145.50ZM242.00 141.55L239.50 145.50L244.50 145.50ZM228.80 141.55L226.30 145.50L231.30 145.50ZM248.60 142.35L246.10 146.30L251.10 146.30ZM222.20 142.35L219.70 146.30L224.70 146.30ZM255.60 143.55L253.10 147.50L258.10 147.50ZM215.20 143.55L212.70 147.50L217.70 147.50ZM262.60 145.35L260.10 149.30L265.10 149.30ZM208.20 145.35L205.70 149.30L210.70 149.30ZM270.00 148.35L267.50 152.30L272.50 152.30ZM200.80 148.35L198.30 152.30L203.30 152.30ZM276.40 152.95L273.90 156.90L278.90 156.90ZM194.40 152.95L191.90 156.90L196.90 156.90ZM281.00 158.95L278.50 162.90L283.50 162.90ZM189.80 158.95L187.30 162.90L192.30 162.90ZM283.00 164.95L280.50 168.90L285.50 168.90ZM187.80 164.95L185.30 168.90L190.30 168.90ZM282.40 171.55L279.90 175.50L284.90 175.50ZM188.40 171.55L185.90 175.50L190.90 175.50ZM279.40 177.95L276.90 181.90L281.90 181.90ZM191.40 177.95L188.90 181.90L193.90 181.90ZM274.00 183.55L271.50 187.50L276.50 187.50ZM196.80 183.55L194.30 187.50L199.30 187.50ZM267.40 187.95L264.90 191.90L269.90 191.90ZM203.40 187.95L200.90 191.90L205.90 191.90ZM261.00 190.55L258.50 194.50L263.50 194.50ZM209.80 190.55L207.30 194.50L212.30 194.50ZM255.00 191.95L252.50 195.90L257.50 195.90ZM215.80 191.95L213.30 195.90L218.30 195.90ZM249.60 192.55L247.10 196.50L252.10 196.50ZM221.20 192.55L218.70 196.50L223.70 196.50ZM244.40 192.95L241.90 196.90L246.90 196.90ZM226.40 192.95L223.90 196.90L228.90 196.90ZM239.60 192.95L237.10 196.90L242.10 196.90ZM231.20 192.95L228.70 196.90L233.70 196.90ZM235.40 192.95L232.90 196.90L237.90 196.90Z" fill="#ff0000"/>
<path d="M85.90 261.25L83.40 265.20L88.40 265.20ZM93.00 261.25L90.50 265.20L95.50 265.20ZM89.45 257.35L86.95 261.30L91.95 261.30ZM82.35 257.35L79.85 261.30L84.85 261.30ZM78.80 261.25L76.30 265.20L81.30 265.20ZM82.35 265.15L79.85 269.10L84.85 269.10ZM89.45 265.15L86.95 269.10L91.95 269.10ZM97.90 261.25L95.40 265.20L100.40 265.20ZM96.29 256.25L93.79 260.20L98.79 260.20ZM91.90 252.59L89.40 256.54L94.40 256.54ZM85.90 251.25L83.40 255.20L88.40 255.20ZM79.90 252.59L77.40 256.54L82.40 256.54ZM75.51 256.25L73.01 260.20L78.01 260.20ZM73.90 261.25L71.40 265.20L76.40 265.20ZM75.51 266.25L73.01 270.20L78.01 270.20ZM79.90 269.91L77.40 273.86L82.40 273.86ZM85.90 271.25L83.40 275.20L88.40 275.20ZM91.90 269.91L89.40 273.86L94.40 273.86ZM96.29 266.25L93.79 270.20L98.79 270.20ZM104.50 261.25L102.00 265.20L107.00 265.20ZM103.38 257.76L100.88 261.71L105.88 261.71ZM100.15 254.69L97.65 258.64L102.65 258.64ZM95.20 252.42L92.70 256.37L97.70 256.37ZM89.13 251.20L86.63 255.15L91.63 255.15ZM82.67 251.20L80.17 255.15L85.17 255.15ZM76.60 252.42L74.10 256.37L79.10 256.37ZM71.65 254.69L69.15 258.64L74.15 258.64ZM68.42 257.76L65.92 261.71L70.92 261.71ZM67.30 261.25L64.80 265.20L69.80 265.20ZM68.42 264.74L65.92 268.69L70.92 268.69ZM71.65 267.81L69.15 271.76L74.15 271.76ZM76.60 270.08L74.10 274.03L79.10 274.03ZM82.67 271.30L80.17 275.25L85.17 275.25ZM89.13 271.30L86.63 275.25L91.63 275.25ZM95.20 270.08L92.70 274.03L97.70 274.03ZM100.15 267.81L97.65 271.76L102.65 271.76ZM103.38 264.74L100.88 268.69L105.88 268.69ZM98.20 261.25L95.70 265.20L100.70 265.20ZM97.78 258.58L95.28 262.53L100.28 262.53ZM96.55 256.10L94.05 260.05L99.05 260.05ZM94.60 253.97L92.10 257.92L97.10 257.92ZM92.05 252.33L89.55 256.28L94.55 256.28ZM89.08 251.30L86.58 255.25L91.58 255.25ZM85.90 250.95L83.40 254.90L88.40 254.90ZM82.72 251.30L80.22 255.25L85.22 255.25ZM79.75 252.33L77.25 256.28L82.25 256.28ZM77.20 253.97L74.70 257.92L79.70 257.92ZM75.25 256.10L72.75 260.05L77.75 260.05ZM74.02 258.58L71.52 262.53L76.52 262.53ZM73.60 261.25L71.10 265.20L76.10 265.20ZM74.02 263.92L71.52 267.87L76.52 267.87ZM75.25 266.40L72.75 270.35L77.75 270.35ZM77.20 268.53L74.70 272.48L79.70 272.48ZM79.75 270.17L77.25 274.12L82.25 274.12ZM82.72 271.20L80.22 275.15L85.22 275.15ZM85.90 271.55L83.40 275.50L88.40 275.50ZM89.08 271.20L86.58 275.15L91.58 275.15ZM92.05 270.17L89.55 274.12L94.55 274.12ZM94.60 268.53L92.10 272.48L97.10 272.48ZM96.55 266.40L94.05 270.35L99.05 270.35ZM97.78 263.92L95.28 267.87L100.28 267.87ZM104.90 261.25L102.40 265.20L107.40 265.20ZM104.48 259.07L101.98 263.02L106.98 263.02ZM103.26 256.98L100.76 260.93L105.76 260.93ZM101.27 255.08L98.77 259.03L103.77 259.03ZM98.61 253.45L96.11 257.40L101.11 257.40ZM95.40 252.16L92.90 256.11L97.90 256.11ZM91.77 251.26L89.27 255.21L94.27 255.21ZM87.89 250.81L85.39 254.76L90.39 254.76ZM83.91 250.81L81.41 254.76L86.41 254.76ZM80.03 251.26L77.53 255.21L82.53 255.21ZM76.40 252.16L73.90 256.11L78.90 256.11ZM73.19 253.45L70.69 257.40L75.69 257.40ZM70.53 255.08L68.03 259.03L73.03 259.03ZM68.54 256.98L66.04 260.93L71.04 260.93ZM67.32 259.07L64.82 263.02L69.82 263.02ZM66.90 261.25L64.40 265.20L69.40 265.20ZM67.32 263.43L64.82 267.38L69.82 267.38ZM68.54 265.52L66.04 269.47L71.04 269.47ZM70.53 267.42L68.03 271.37L73.03 271.37ZM73.19 269.05L70.69 273.00L75.69 273.00ZM76.40 270.34L73.90 274.29L78.90 274.29ZM80.03 271.24L77.53 275.19L82.53 275.19ZM83.91 271.69L81.41 275.64L86.41 275.64ZM87.89 271.69L85.39 275.64L90.39 275.64ZM91.77 271.24L89.27 275.19L94.27 275.19ZM95.40 270.34L92.90 274.29L97.90 274.29ZM98.61 269.05L96.11 273.00L101.11 273.00ZM101.27 267.42L98.77 271.37L103.77 271.37ZM103.26 265.52L100.76 269.47L105.76 269.47ZM104.48 263.43L101.98 267.38L106.98 267.38ZM85.80 244.05L83.30 248.00L88.30 248.00ZM90.80 244.05L88.30 248.00L93.30 248.00ZM80.80 244.05L78.30 248.00L83.30 248.00ZM95.80 244.05L93.30 248.00L98.30 248.00ZM75.80 244.05L73.30 248.00L78.30 248.00ZM100.80 244.05L98.30 248.00L103.30 248.00ZM70.80 244.05L68.30 248.00L73.30 248.00ZM107.80 244.45L105.30 248.40L110.30 248.40ZM63.80 244.45L61.30 248.40L66.30 248.40ZM115.80 245.45L113.30 249.40L118.30 249.40ZM55.80 245.45L53.30 249.40L58.30 249.40ZM123.80 247.65L121.30 251.60L126.30 251.60ZM47.80 247.65L45.30 251.60L50.30 251.60ZM130.00 251.65L127.50 255.60L132.50 255.60ZM41.60 251.65L39.10 255.60L44.10 255.60ZM133.00 256.05L130.50 260.00L135.50 260.00ZM38.60 256.05L36.10 260.00L41.10 260.00ZM133.60 261.05L131.10 265.00L136.10 265.00ZM38.00 261.05L35.50 265.00L40.50 265.00ZM130.10 265.65L127.60 269.60L132.60 269.60ZM41.50 265.65L39.00 269.60L44.00 269.60ZM122.00 270.05L119.50 274.00L124.50 274.00ZM49.60 270.05L47.10 274.00L52.10 274.00ZM114.30 272.05L111.80 276.00L116.80 276.00ZM57.30 272.05L54.80 276.00L59.80 276.00ZM107.30 273.05L104.80 277.00L109.80 277.00ZM64.30 273.05L61.80 277.00L66.80 277.00ZM101.20 273.45L98.70 277.40L103.70 277.40ZM70.40 273.45L67.90 277.40L72.90 277.40ZM96.30 273.45L93.80 277.40L98.80 277.40ZM75.30 273.45L72.80 277.40L77.80 277.40ZM92.40 273.45L89.90 277.40L94.90 277.40ZM79.20 273.45L76.70 277.40L81.70 277.40ZM89.00 273.45L86.50 277.40L91.50 277.40ZM82.60 273.45L80.10 277.40L85.10 277.40ZM85.80 273.45L83.30 277.40L88.30 277.40Z" fill="#ff0000"/>
<path d="M384.30 260.95L381.80 264.90L386.80 264.90ZM390.90 260.95L388.40 264.90L393.40 264.90ZM387.60 258.70L385.10 262.65L390.10 262.65ZM381.00 258.70L378.50 262.65L383.50 262.65ZM377.70 260.95L375.20 264.90L380.20 264.90ZM381.00 263.20L378.50 267.15L383.50 267.15ZM387.60 263.20L385.10 267.15L390.10 267.15ZM396.00 260.95L393.50 264.90L398.50 264.90ZM394.43 258.20L391.93 262.15L396.93 262.15ZM390.15 256.19L387.65 260.14L392.65 260.14ZM384.30 255.45L381.80 259.40L386.80 259.40ZM378.45 256.19L375.95 260.14L380.95 260.14ZM374.17 258.20L371.67 262.15L376.67 262.15ZM372.60 260.95L370.10 264.90L375.10 264.90ZM374.17 263.70L371.67 267.65L376.67 267.65ZM378.45 265.71L375.95 269.66L380.95 269.66ZM384.30 266.45L381.80 270.40L386.80 270.40ZM390.15 265.71L387.65 269.66L392.65 269.66ZM394.43 263.70L391.93 267.65L396.93 267.65ZM402.90 260.95L400.40 264.90L405.40 264.90ZM401.78 258.15L399.28 262.10L404.28 262.10ZM398.55 255.68L396.05 259.63L401.05 259.63ZM393.60 253.85L391.10 257.80L396.10 257.80ZM387.53 252.87L385.03 256.82L390.03 256.82ZM381.07 252.87L378.57 256.82L383.57 256.82ZM375.00 253.85L372.50 257.80L377.50 257.80ZM370.05 255.68L367.55 259.63L372.55 259.63ZM366.82 258.15L364.32 262.10L369.32 262.10ZM365.70 260.95L363.20 264.90L368.20 264.90ZM366.82 263.75L364.32 267.70L369.32 267.70ZM370.05 266.22L367.55 270.17L372.55 270.17ZM375.00 268.05L372.50 272.00L377.50 272.00ZM381.07 269.03L378.57 272.98L383.57 272.98ZM387.53 269.03L385.03 272.98L390.03 272.98ZM393.60 268.05L391.10 272.00L396.10 272.00ZM398.55 266.22L396.05 270.17L401.05 270.17ZM401.78 263.75L399.28 267.70L404.28 267.70ZM396.40 260.95L393.90 264.90L398.90 264.90ZM395.99 259.40L393.49 263.35L398.49 263.35ZM394.78 257.95L392.28 261.90L397.28 261.90ZM392.86 256.71L390.36 260.66L395.36 260.66ZM390.35 255.75L387.85 259.70L392.85 259.70ZM387.43 255.15L384.93 259.10L389.93 259.10ZM384.30 254.95L381.80 258.90L386.80 258.90ZM381.17 255.15L378.67 259.10L383.67 259.10ZM378.25 255.75L375.75 259.70L380.75 259.70ZM375.74 256.71L373.24 260.66L378.24 260.66ZM373.82 257.95L371.32 261.90L376.32 261.90ZM372.61 259.40L370.11 263.35L375.11 263.35ZM372.20 260.95L369.70 264.90L374.70 264.90ZM372.61 262.50L370.11 266.45L375.11 266.45ZM373.82 263.95L371.32 267.90L376.32 267.90ZM375.74 265.19L373.24 269.14L378.24 269.14ZM378.25 266.15L375.75 270.10L380.75 270.10ZM381.17 266.75L378.67 270.70L383.67 270.70ZM384.30 266.95L381.80 270.90L386.80 270.90ZM387.43 266.75L384.93 270.70L389.93 270.70ZM390.35 266.15L387.85 270.10L392.85 270.10ZM392.86 265.19L390.36 269.14L395.36 269.14ZM394.78 263.95L392.28 267.90L397.28 267.90ZM395.99 262.50L393.49 266.45L398.49 266.45ZM403.40 260.95L400.90 264.90L405.90 264.90ZM402.98 259.16L400.48 263.11L405.48 263.11ZM401.75 257.45L399.25 261.40L404.25 261.40ZM399.75 255.90L397.25 259.85L402.25 259.85ZM397.08 254.56L394.58 258.51L399.58 258.51ZM393.85 253.50L391.35 257.45L396.35 257.45ZM390.20 252.77L387.70 256.72L392.70 256.72ZM386.30 252.40L383.80 256.35L388.80 256.35ZM382.30 252.40L379.80 256.35L384.80 256.35ZM378.40 252.77L375.90 256.72L380.90 256.72ZM374.75 253.50L372.25 257.45L377.25 257.45ZM371.52 254.56L369.02 258.51L374.02 258.51ZM368.85 255.90L366.35 259.85L371.35 259.85ZM366.85 257.45L364.35 261.40L369.35 261.40ZM365.62 259.16L363.12 263.11L368.12 263.11ZM365.20 260.95L362.70 264.90L367.70 264.90ZM365.62 262.74L363.12 266.69L368.12 266.69ZM366.85 264.45L364.35 268.40L369.35 268.40ZM368.85 266.00L366.35 269.95L371.35 269.95ZM371.52 267.34L369.02 271.29L374.02 271.29ZM374.75 268.40L372.25 272.35L377.25 272.35ZM378.40 269.13L375.90 273.08L380.90 273.08ZM382.30 269.50L379.80 273.45L384.80 273.45ZM386.30 269.50L383.80 273.45L388.80 273.45ZM390.20 269.13L387.70 273.08L392.70 273.08ZM393.85 268.40L391.35 272.35L396.35 272.35ZM397.08 267.34L394.58 271.29L399.58 271.29ZM399.75 266.00L397.25 269.95L402.25 269.95ZM401.75 264.45L399.25 268.40L404.25 268.40ZM402.98 262.74L400.48 266.69L405.48 266.69ZM384.20 252.15L381.70 256.10L386.70 256.10ZM387.60 252.15L385.10 256.10L390.10 256.10ZM380.80 252.15L378.30 256.10L383.30 256.10ZM391.20 252.15L388.70 256.10L393.70 256.10ZM377.20 252.15L374.70 256.10L379.70 256.10ZM395.60 252.15L393.10 256.10L398.10 256.10ZM372.80 252.15L370.30 256.10L375.30 256.10ZM401.70 252.25L399.20 256.20L404.20 256.20ZM366.70 252.25L364.20 256.20L369.20 256.20ZM409.30 252.65L406.80 256.60L411.80 256.60ZM359.10 252.65L356.60 256.60L361.60 256.60ZM418.40 253.45L415.90 257.40L420.90 257.40ZM350.00 253.45L347.50 257.40L352.50 257.40ZM426.20 254.75L423.70 258.70L428.70 258.70ZM342.20 254.75L339.70 258.70L344.70 258.70ZM432.70 257.35L430.20 261.30L435.20 261.30ZM335.70 257.35L333.20 261.30L338.20 261.30ZM431.40 261.25L428.90 265.20L433.90 265.20ZM337.00 261.25L334.50 265.20L339.50 265.20ZM424.90 263.85L422.40 267.80L427.40 267.80ZM343.50 263.85L341.00 267.80L346.00 267.80ZM417.10 265.65L414.60 269.60L419.60 269.60ZM351.30 265.65L348.80 269.60L353.80 269.60ZM409.40 266.45L406.90 270.40L411.90 270.40ZM359.00 266.45L356.50 270.40L361.50 270.40ZM402.80 266.85L400.30 270.80L405.30 270.80ZM365.60 266.85L363.10 270.80L368.10 270.80ZM397.30 266.95L394.80 270.90L399.80 270.90ZM371.10 266.95L368.60 270.90L373.60 270.90ZM392.90 266.95L390.40 270.90L395.40 270.90ZM375.50 266.95L373.00 270.90L378.00 270.90ZM389.50 266.95L387.00 270.90L392.00 270.90ZM378.90 266.95L376.40 270.90L381.40 270.90ZM386.70 266.95L384.20 270.90L389.20 270.90ZM381.70 266.95L379.20 270.90L384.20 270.90ZM384.20 266.95L381.70 270.90L386.70 270.90Z" fill="#ff0000"/>
<rect x="12.3" y="11.8" width="525" height="399.8" fill="none" stroke="#000" stroke-width="1.7"/>
<text x="31.20" y="32.70" font-size="12.4" textLength="111.75" lengthAdjust="spacing" xml:space="preserve">OBJ: 0.00 (deg)</text>
<text x="38.00" y="145.60" font-size="12.4" textLength="96.85" lengthAdjust="spacing" xml:space="preserve">IMA: 0.000 mm</text>
<text x="326.50" y="32.30" font-size="12.4" textLength="119.20" lengthAdjust="spacing" xml:space="preserve">OBJ: 12.00 (deg)</text>
<text x="333.30" y="145.60" font-size="12.4" textLength="104.30" lengthAdjust="spacing" xml:space="preserve">IMA: 24.946 mm</text>
<text x="177.10" y="122.10" font-size="12.4" textLength="119.20" lengthAdjust="spacing" xml:space="preserve">OBJ: 25.00 (deg)</text>
<text x="183.60" y="234.50" font-size="12.4" textLength="104.30" lengthAdjust="spacing" xml:space="preserve">IMA: 50.707 mm</text>
<text x="27.70" y="211.20" font-size="12.4" textLength="119.20" lengthAdjust="spacing" xml:space="preserve">OBJ: 37.00 (deg)</text>
<text x="34.20" y="324.50" font-size="12.4" textLength="104.30" lengthAdjust="spacing" xml:space="preserve">IMA: 72.208 mm</text>
<text x="326.50" y="211.20" font-size="12.4" textLength="119.20" lengthAdjust="spacing" xml:space="preserve">OBJ: 50.00 (deg)</text>
<text x="333.30" y="324.50" font-size="12.4" textLength="104.30" lengthAdjust="spacing" xml:space="preserve">IMA: 91.913 mm</text>
<path d="M35.1 34.4V135.9M32.7 34.4h4.6M32.7 135.9h4.6" stroke="#1a1a1a" stroke-width="1.6" fill="none"/>
<text transform="translate(34.6 103.03) rotate(-90)" font-size="12.4" textLength="37.25" lengthAdjust="spacing">40.00</text>
<text x="492.00" y="33.15" font-size="13.4" textLength="32.20" lengthAdjust="spacing" xml:space="preserve">0.48</text>
<text x="492.00" y="50.30" font-size="13.4" textLength="32.20" lengthAdjust="spacing" xml:space="preserve">0.58</text>
<text x="492.00" y="67.60" font-size="13.4" textLength="32.20" lengthAdjust="spacing" xml:space="preserve">0.66</text>
<text x="34.00" y="348.20" font-size="12.4" textLength="350.15" lengthAdjust="spacing" xml:space="preserve">Units are µm. Legend items refer to Wavelengths</text>
<text x="34.00" y="361.90" font-size="12.4" textLength="424.65" lengthAdjust="spacing" xml:space="preserve">Field      :        1        2        3        4        5</text>
<text x="34.00" y="375.60" font-size="12.4" textLength="424.65" lengthAdjust="spacing" xml:space="preserve">RMS radius :    7.686    7.273    6.398    5.789    5.330</text>
<text x="34.00" y="389.30" font-size="12.4" textLength="424.65" lengthAdjust="spacing" xml:space="preserve">GEO radius :   18.533   18.922   18.930   18.908   18.808</text>
<text x="34.00" y="403.00" font-size="12.4" textLength="312.90" lengthAdjust="spacing" xml:space="preserve">Scale bar  : 40     Reference  : Chief Ray</text>
</g>
</svg>
</body></html>
